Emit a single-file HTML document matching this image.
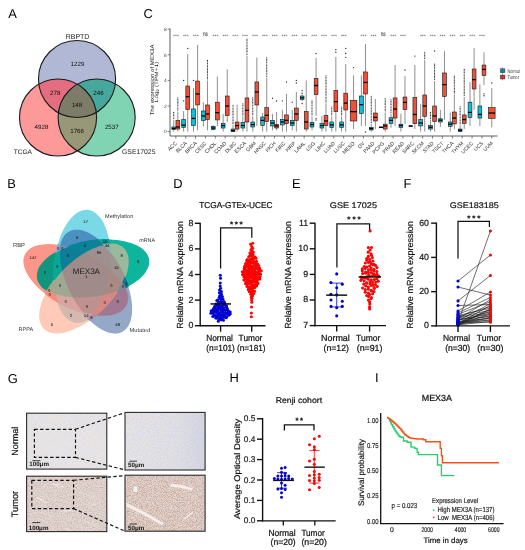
<!DOCTYPE html>
<html><head><meta charset="utf-8"><style>
html,body{margin:0;padding:0;background:#fff;width:525px;height:550px;overflow:hidden;}
svg{display:block;will-change:transform;}
text{font-family:"Liberation Sans", sans-serif;text-rendering:geometricPrecision;}
</style></head><body>
<svg xmlns="http://www.w3.org/2000/svg" width="525" height="550" viewBox="0 0 525 550">
<rect width="525" height="550" fill="#fff"/>
<text x="8.20" y="18.00" font-size="12.9" text-anchor="start" fill="#000" >A</text>
<text x="143.60" y="18.20" font-size="12.9" text-anchor="start" fill="#000" >C</text>
<text x="7.20" y="187.80" font-size="12.9" text-anchor="start" fill="#000" >B</text>
<text x="173.20" y="188.10" font-size="12.9" text-anchor="start" fill="#000" >D</text>
<text x="291.90" y="188.10" font-size="12.9" text-anchor="start" fill="#000" >E</text>
<text x="403.40" y="187.90" font-size="12.9" text-anchor="start" fill="#000" >F</text>
<text x="7.80" y="382.50" font-size="12.9" text-anchor="start" fill="#000" >G</text>
<text x="229.60" y="382.20" font-size="12.9" text-anchor="start" fill="#000" >H</text>
<text x="375.00" y="382.20" font-size="12.9" text-anchor="start" fill="#000" >I</text>
<defs>
<clipPath id="cpB"><circle cx="77.05" cy="79.0" r="38.55"/></clipPath>
<clipPath id="cpR"><circle cx="58.05" cy="117.5" r="38.55"/></clipPath>
</defs>
<circle cx="77.05" cy="79.0" r="38.55" fill="#B0B8D6"/>
<circle cx="58.05" cy="117.5" r="38.55" fill="#FE999A"/>
<circle cx="96.65" cy="117.5" r="38.55" fill="#80D4B4"/>
<circle cx="58.05" cy="117.5" r="38.55" fill="#E46E80" clip-path="url(#cpB)"/>
<circle cx="96.65" cy="117.5" r="38.55" fill="#46A89C" clip-path="url(#cpB)"/>
<circle cx="96.65" cy="117.5" r="38.55" fill="#989878" clip-path="url(#cpR)"/>
<g clip-path="url(#cpB)"><circle cx="96.65" cy="117.5" r="38.55" fill="#7C7C68" clip-path="url(#cpR)"/></g>
<circle cx="77.05" cy="79.0" r="38.55" fill="none" stroke="#1a1a1a" stroke-width="1.1"/>
<circle cx="58.05" cy="117.5" r="38.55" fill="none" stroke="#1a1a1a" stroke-width="1.1"/>
<circle cx="96.65" cy="117.5" r="38.55" fill="none" stroke="#1a1a1a" stroke-width="1.1"/>
<text x="77.50" y="66.03" font-size="6.2" text-anchor="middle" fill="#111" >1229</text>
<text x="55.20" y="94.63" font-size="6.2" text-anchor="middle" fill="#111" >278</text>
<text x="98.50" y="94.63" font-size="6.2" text-anchor="middle" fill="#111" >246</text>
<text x="77.10" y="107.03" font-size="6.2" text-anchor="middle" fill="#111" >148</text>
<text x="41.50" y="128.63" font-size="6.2" text-anchor="middle" fill="#111" >4928</text>
<text x="77.10" y="132.73" font-size="6.2" text-anchor="middle" fill="#111" >1766</text>
<text x="111.80" y="128.53" font-size="6.2" text-anchor="middle" fill="#111" >2537</text>
<text x="65.70" y="39.10" font-size="7" text-anchor="start" fill="#222" >RBPTD</text>
<text x="13.70" y="153.80" font-size="6.6" text-anchor="start" fill="#222" >TCGA</text>
<text x="122.00" y="153.80" font-size="6.85" text-anchor="start" fill="#222" >GSE17025</text>
<defs><clipPath id="cpU"><ellipse cx="93.29" cy="268.72" rx="56.59" ry="28.16" transform="rotate(-9.6 93.29 268.72)"/><ellipse cx="95.9" cy="281.85" rx="56.59" ry="28.16" transform="rotate(62.2 95.9 281.85)"/><ellipse cx="83.73" cy="288.68" rx="56.59" ry="28.16" transform="rotate(134.7 83.73 288.68)"/><ellipse cx="75.51" cy="279.68" rx="56.59" ry="28.16" transform="rotate(206.6 75.51 279.68)"/><ellipse cx="82.1" cy="266.13" rx="56.59" ry="28.16" transform="rotate(275.9 82.1 266.13)"/></clipPath></defs>
<g clip-path="url(#cpU)">
<path d="M72.24 298.20 77.20 298.46 81.00 298.49 84.85 298.37 88.75 298.11 92.67 297.71 96.59 297.17 100.50 296.49 104.37 295.68 105.60 292.25 106.73 288.68 107.62 285.47 108.52 281.71 109.12 278.84 109.72 275.45 110.21 272.02 110.58 268.90 107.53 266.34 104.55 264.04 101.44 261.82 98.19 259.68 94.84 257.64 91.40 255.70 87.88 253.88 84.17 252.12 81.39 253.85 78.28 255.94 75.19 258.19 72.14 260.59 69.52 262.81 66.59 265.45 63.74 268.20 61.25 270.78 62.49 275.40 64.10 280.37 65.81 284.91 67.96 289.87 69.91 293.87Z" fill="#9F8B89"/>
<path d="M45.16 293.19 43.38 296.88 42.09 299.96 41.00 302.98 40.12 305.93 39.45 308.80 39.00 311.57 38.76 314.24 38.75 316.78 38.95 319.19 39.37 321.46 40.02 323.57 40.89 325.52 41.96 327.28 43.25 328.86 44.75 330.24 46.43 331.40 48.30 332.36 50.33 333.09 52.53 333.60 54.88 333.89 57.36 333.96 59.96 333.81 62.68 333.43 65.50 332.84 68.40 332.04 71.38 331.02 74.41 329.80 77.88 328.19 80.99 326.56 84.12 324.74 87.24 322.75 90.44 320.52 88.12 318.22 86.95 319.03 85.74 319.77 83.56 320.84 81.37 321.57 80.16 321.83 78.95 321.99 78.00 322.04 76.80 322.01 75.62 321.88 74.45 321.64 73.29 321.30 72.38 320.96 70.36 319.94 68.41 318.59 66.53 316.92 64.75 314.93 63.24 312.91 61.66 310.36 60.36 307.86 59.02 304.80 57.87 301.66 54.54 299.69 51.28 297.61 48.15 295.43Z" fill="#FFCBB8"/>
<path d="M109.62 239.88 108.62 235.28 107.73 232.03 106.71 228.96 105.58 226.06 104.33 223.35 102.97 220.85 101.51 218.57 99.95 216.52 98.30 214.70 96.57 213.14 94.76 211.83 92.89 210.79 90.95 210.02 88.97 209.53 86.95 209.32 84.91 209.40 82.86 209.75 80.81 210.39 78.77 211.30 76.75 212.48 74.77 213.92 72.82 215.61 70.93 217.54 68.86 220.00 67.09 222.42 65.40 225.05 63.79 227.88 62.08 231.28 60.67 234.48 59.36 237.84 58.16 241.33 57.06 245.01 60.92 245.62 61.34 243.94 61.78 242.46 62.29 241.07 62.86 239.75 63.49 238.52 64.19 237.37 64.94 236.30 65.91 235.14 66.79 234.27 67.71 233.48 68.69 232.79 69.93 232.08 71.24 231.50 72.38 231.13 73.57 230.84 74.80 230.65 76.07 230.56 77.38 230.56 78.73 230.66 80.11 230.85 81.53 231.14 82.97 231.53 84.44 232.01 85.93 232.59 88.98 234.03 92.08 235.83 94.90 237.76 98.04 240.21 103.69 239.89 106.54 239.84Z" fill="#7AD9E7"/>
<path d="M128.03 287.16 131.57 285.18 134.37 283.41 136.96 281.58 139.34 279.68 141.50 277.73 143.43 275.73 145.12 273.70 146.39 271.89 147.60 269.81 148.54 267.72 149.22 265.63 149.58 263.81 149.73 261.74 149.61 259.71 149.27 257.97 148.61 256.03 147.82 254.39 146.66 252.58 145.24 250.86 143.56 249.23 141.65 247.70 139.50 246.28 137.13 244.97 134.54 243.77 132.12 242.83 129.18 241.87 126.06 241.04 122.79 240.34 119.37 239.79 115.83 239.37 112.18 239.09 108.52 238.96 108.98 241.45 109.41 244.31 112.22 244.34 113.66 244.48 115.04 244.69 116.36 244.99 117.62 245.37 118.81 245.83 119.93 246.37 120.98 246.98 121.96 247.68 122.87 248.45 123.71 249.29 124.48 250.21 125.17 251.20 125.78 252.26 126.31 253.39 126.77 254.59 127.15 255.85 127.62 258.29 127.77 259.72 127.83 261.22 127.74 264.04 127.32 267.36 126.65 270.49 125.72 273.74 124.42 277.36 126.37 282.28Z" fill="#0CB59C"/>
<path d="M89.04 320.42 92.22 323.36 94.77 325.46 97.32 327.35 99.87 329.02 102.40 330.47 104.90 331.67 107.36 332.64 109.77 333.36 112.12 333.83 114.39 334.04 116.57 333.99 118.66 333.69 120.64 333.13 122.50 332.31 124.02 331.38 125.62 330.10 126.90 328.78 128.21 327.05 129.36 325.11 130.35 322.96 131.16 320.62 131.79 318.09 132.25 315.38 132.54 312.52 132.64 309.51 132.57 306.36 132.32 303.10 131.89 299.74 131.29 296.29 130.51 292.77 129.57 289.20 128.56 285.86 124.62 287.85 125.34 289.50 125.89 290.97 126.35 292.42 126.77 294.12 127.01 295.50 127.18 297.12 127.21 298.43 127.11 299.96 126.93 301.18 126.59 302.60 126.19 303.73 125.60 305.03 124.87 306.26 124.16 307.23 123.36 308.15 122.47 309.02 121.29 310.00 120.20 310.75 119.03 311.44 117.78 312.08 116.16 312.76 114.73 313.26 113.23 313.70 111.65 314.07 108.28 314.62 104.66 314.91 100.81 314.93 96.46 314.64 92.87 317.57Z" fill="#95A8C8"/>
<path d="M58.21 244.26 53.92 243.75 50.64 243.55 47.48 243.52 44.45 243.66 41.57 243.98 38.86 244.48 36.32 245.15 34.25 245.87 32.07 246.86 30.10 248.01 28.35 249.32 27.00 250.59 25.69 252.18 24.62 253.91 23.90 255.54 23.31 257.50 23.01 259.31 22.91 261.46 23.08 263.70 23.50 266.01 24.08 268.08 24.97 270.50 26.11 272.96 27.49 275.45 28.88 277.64 30.69 280.15 32.72 282.66 34.95 285.16 37.37 287.62 39.99 290.05 42.77 292.43 45.47 294.57 47.67 290.46 46.22 289.54 44.98 288.65 43.83 287.72 42.58 286.57 41.64 285.57 40.80 284.54 40.07 283.48 39.31 282.18 38.80 281.07 38.38 279.94 38.07 278.78 37.84 277.38 37.75 275.95 37.78 274.74 37.93 273.52 38.17 272.28 38.60 270.79 39.08 269.55 39.65 268.29 40.33 267.04 41.11 265.79 41.99 264.54 42.97 263.30 44.04 262.06 46.47 259.64 49.26 257.27 52.38 255.00 56.16 252.63 57.10 248.40Z" fill="#FD968A"/>
<path d="M56.40 251.45 51.55 254.48 48.40 256.80 46.68 258.24 45.33 259.46 42.92 261.96 41.66 263.49 40.71 264.77 39.86 266.07 39.12 267.37 38.48 268.67 37.94 269.98 37.51 271.29 37.18 272.59 36.93 274.15 36.85 275.44 36.87 276.72 37.01 277.98 37.25 279.23 37.61 280.45 38.07 281.65 38.64 282.82 39.31 283.97 40.09 285.08 40.96 286.16 42.15 287.41 43.24 288.41 44.43 289.37 45.71 290.28 47.22 291.25 48.68 288.74 50.38 286.02 52.21 283.31 54.11 280.69 53.96 276.93 53.95 273.55 54.06 269.65 54.27 266.22 54.59 262.79 55.08 258.89 55.70 255.03Z" fill="#0E967E"/>
<path d="M95.50 315.46 101.18 315.84 103.54 315.84 105.45 315.77 107.67 315.60 109.45 315.38 112.81 314.73 114.70 314.21 116.20 313.71 117.61 313.14 118.95 312.50 120.45 311.66 121.61 310.88 122.67 310.04 123.65 309.15 124.70 307.99 125.48 306.97 126.15 305.89 126.73 304.76 127.21 303.59 127.59 302.36 127.86 301.10 128.06 299.52 128.11 298.17 128.06 296.79 127.90 295.38 127.59 293.64 127.22 292.17 126.74 290.68 126.18 289.17 125.43 287.46 121.37 289.30 117.37 290.89 115.25 294.05 112.72 297.51 110.01 300.91 107.46 303.88 104.46 307.12 101.68 309.90 98.81 312.58Z" fill="#A07891"/>
<path d="M99.32 240.11 96.39 237.75 94.80 236.57 91.61 234.48 88.46 232.75 86.90 232.03 85.36 231.39 83.83 230.86 82.33 230.42 80.85 230.08 79.40 229.83 77.97 229.69 76.58 229.65 75.23 229.71 73.91 229.87 72.63 230.13 71.40 230.49 70.21 230.95 69.07 231.51 67.99 232.17 66.96 232.93 65.99 233.78 65.07 234.72 64.22 235.76 63.43 236.88 62.71 238.08 62.05 239.37 61.45 240.74 60.93 242.18 60.47 243.70 60.04 245.46 63.68 246.18 67.64 247.15 71.28 245.81 74.90 244.63 79.09 243.45 82.89 242.53 87.22 241.65 91.10 241.01 94.99 240.51Z" fill="#4A90C0"/>
<path d="M71.70 297.26 74.52 302.06 76.92 305.76 79.43 309.31 82.13 312.81 84.91 313.54 87.60 314.15 90.25 314.68 92.91 315.11 94.66 313.11 96.23 311.08 97.75 308.88 99.41 306.17 100.80 303.64 102.30 300.59 103.53 297.78 104.75 294.67 100.81 295.51 96.45 296.28 92.56 296.82 88.19 297.25 84.33 297.49 80.04 297.60 75.83 297.52Z" fill="#BE918E"/>
<path d="M124.92 278.54 126.70 273.64 127.70 269.99 128.37 266.47 128.68 263.45 128.73 261.84 128.70 260.27 128.58 258.76 128.38 257.30 128.09 255.90 127.71 254.56 127.24 253.28 126.81 252.31 126.20 251.16 125.50 250.08 124.71 249.07 124.03 248.32 123.30 247.62 122.31 246.81 121.25 246.09 120.12 245.45 119.16 245.00 117.91 244.52 116.59 244.12 115.21 243.81 113.77 243.58 112.28 243.44 109.28 243.42 109.85 248.23 110.16 252.97 112.21 255.69 114.40 258.85 116.51 262.11 118.27 265.05 120.18 268.49 121.75 271.55 123.43 275.10Z" fill="#9BB99B"/>
<path d="M110.46 270.00 110.93 264.63 111.11 260.69 111.16 256.77 111.05 252.64 109.16 250.27 107.36 248.15 105.53 246.12 103.63 244.14 101.24 244.70 98.69 245.44 96.46 246.20 93.81 247.24 91.13 248.42 88.42 249.76 85.69 251.24 83.23 252.69 87.04 254.47 90.54 256.26 93.97 258.17 97.71 260.44 100.93 262.56 104.39 265.05 107.33 267.33Z" fill="#9C918F"/>
<path d="M85.17 252.58 80.22 250.43 76.11 248.86 72.00 247.47 67.59 246.20 63.18 248.04 59.37 249.86 59.20 252.30 59.16 254.97 59.23 257.34 59.44 260.19 59.73 262.69 60.19 265.68 60.78 268.72 61.50 271.82 64.38 268.84 67.21 266.11 70.11 263.48 73.09 260.99 76.11 258.62 79.18 256.41 82.26 254.35Z" fill="#0C7E96"/>
<path d="M56.70 301.00 58.33 305.49 59.71 308.58 61.23 311.41 62.88 313.96 64.65 316.22 66.54 318.17 68.52 319.81 69.67 320.57 70.60 321.11 71.79 321.69 72.76 322.07 73.99 322.45 74.98 322.68 76.24 322.87 77.25 322.94 78.27 322.93 79.55 322.83 80.57 322.67 81.85 322.37 82.88 322.05 84.16 321.56 86.44 320.40 88.75 318.87 85.72 315.64 82.65 312.02 79.29 311.03 76.12 309.98 72.50 308.64 69.34 307.35 66.20 305.95 63.10 304.46 60.05 302.87Z" fill="#D4B9B1"/>
<path d="M55.08 294.83 59.72 296.21 64.21 297.17 68.52 297.83 73.32 298.29 71.39 294.77 69.61 291.26 67.97 287.71 66.47 284.12 65.10 280.53 63.89 276.93 62.84 273.37 61.99 270.00 59.66 272.52 57.39 275.12 55.22 277.77 53.19 280.41 53.42 283.64 53.70 286.43 54.12 289.62 54.57 292.29Z" fill="#A0A891"/>
<path d="M103.31 295.92 108.19 294.74 111.47 293.81 114.69 292.79 117.96 291.63 120.71 287.12 122.93 282.93 121.70 281.09 120.33 279.21 118.83 277.32 117.21 275.45 115.48 273.58 113.65 271.74 109.75 268.17 109.32 271.91 108.83 275.31 108.23 278.67 107.43 282.46 106.63 285.70 105.60 289.32 104.45 292.83Z" fill="#A88A82"/>
<path d="M104.39 244.91 101.16 241.76 98.33 239.29 94.40 239.67 89.99 240.27 85.59 241.04 81.73 241.87 77.44 242.96 73.72 244.06 70.09 245.27 66.16 246.75 70.83 248.05 75.35 249.54 79.88 251.26 84.23 253.14 86.90 251.59 89.60 250.17 91.89 249.06 94.53 247.91 97.13 246.91 99.68 246.07 102.17 245.39Z" fill="#0A8298"/>
<path d="M54.86 293.80 56.01 298.62 57.13 302.27 60.50 304.13 63.59 305.70 67.18 307.38 70.35 308.74 73.54 310.00 76.74 311.14 79.93 312.17 83.62 313.22 80.72 309.54 77.94 305.65 75.29 301.59 72.79 297.34 67.76 296.82 63.14 296.05 58.79 295.03Z" fill="#D9A5A0"/>
<path d="M122.46 283.87 124.25 280.09 125.39 277.35 123.84 273.83 122.12 270.27 120.27 266.76 118.55 263.75 116.49 260.39 114.61 257.54 112.37 254.39 110.09 251.40 110.24 255.81 110.23 260.17 110.03 264.57 109.63 269.27 113.33 272.68 115.13 274.51 116.82 276.36 118.39 278.21 119.85 280.06 121.18 281.92Z" fill="#9E9490"/>
<path d="M91.84 314.95 96.75 315.58 99.05 313.58 101.59 311.23 104.07 308.80 106.47 306.30 108.79 303.73 111.01 301.11 113.14 298.44 115.15 295.74 116.79 293.40 118.78 290.37 114.85 291.78 111.22 292.95 107.49 293.99 103.70 294.91 102.53 297.83 101.12 300.98 99.81 303.59 98.23 306.41 96.79 308.71 95.07 311.14 93.52 313.08Z" fill="#D88882"/>
<path d="M60.31 249.38 55.35 252.06 55.18 252.94 54.56 256.32 53.99 260.24 53.54 264.18 53.27 267.63 53.10 271.08 53.04 274.52 53.09 277.92 53.27 281.81 55.33 279.09 57.45 276.45 59.67 273.85 62.24 271.04 61.57 268.10 61.00 265.10 60.62 262.57 60.30 259.69 60.13 257.29 60.06 254.58 60.12 251.97Z" fill="#08A898"/>
<path d="M46.45 290.78 49.45 292.47 51.70 293.52 53.75 294.35 56.07 295.16 55.30 291.25 54.76 287.69 54.31 283.56 54.03 279.29 51.75 282.40 49.88 285.14 48.14 287.88Z" fill="#A3A48C"/>
<path d="M46.90 289.99 44.74 294.01 48.01 296.44 51.19 298.62 54.49 300.72 58.30 302.94 56.99 298.78 55.85 294.14 53.39 293.24 51.10 292.27 48.97 291.20Z" fill="#F58C7D"/>
<path d="M110.31 244.29 109.44 238.98 106.54 238.94 103.18 239.01 100.27 239.15 97.05 239.39 100.24 242.13 103.33 245.12 105.27 244.76 106.93 244.52 108.55 244.37Z" fill="#0A9C9C"/>
<path d="M124.99 288.67 128.84 286.73 127.05 281.51 124.89 276.16 123.43 279.73 121.89 282.99 123.63 285.90Z" fill="#0A7890"/>
<path d="M111.12 254.21 110.70 247.68 110.19 243.40 108.49 243.47 106.49 243.67 104.78 243.93 102.58 244.36 104.87 246.73 106.98 249.09 109.05 251.57Z" fill="#8FB0A8"/>
<path d="M81.17 311.61 85.05 316.24 88.01 319.40 89.43 318.34 90.89 317.10 92.33 315.72 93.64 314.32 90.41 313.79 87.34 313.18 84.24 312.44Z" fill="#C0A8A8"/>
<path d="M116.55 292.15 121.73 290.13 125.81 288.28 124.25 285.16 122.36 282.04 120.99 284.73 119.70 287.06 118.31 289.40Z" fill="#7A8A98"/>
<path d="M61.12 244.74 57.31 244.13 56.11 248.66 55.11 253.24 57.66 251.78 60.22 250.44 60.59 247.43Z" fill="#9AA4C4"/>
<path d="M87.38 318.75 89.70 321.06 93.80 317.98 97.70 314.76 95.10 314.50 92.57 314.15 91.23 315.55 90.05 316.64 88.87 317.64Z" fill="#B08AA8"/>
<path d="M59.94 245.94 59.55 248.32 59.28 250.91 63.96 248.68 69.07 246.59 64.32 245.40 60.23 244.59Z" fill="#6A90B8"/>
</g>
<text x="85.70" y="222.81" font-size="4.2" text-anchor="middle" fill="#1a1a1a" font-weight="bold" fill-opacity="0.8">17</text>
<text x="77.10" y="239.41" font-size="4.2" text-anchor="middle" fill="#1a1a1a" font-weight="bold" fill-opacity="0.8">6</text>
<text x="105.10" y="242.81" font-size="4.2" text-anchor="middle" fill="#1a1a1a" font-weight="bold" fill-opacity="0.8">16</text>
<text x="107.00" y="247.41" font-size="4.2" text-anchor="middle" fill="#1a1a1a" font-weight="bold" fill-opacity="0.8">44</text>
<text x="84.90" y="247.41" font-size="4.2" text-anchor="middle" fill="#1a1a1a" font-weight="bold" fill-opacity="0.8">6</text>
<text x="58.20" y="249.51" font-size="4.2" text-anchor="middle" fill="#1a1a1a" font-weight="bold" fill-opacity="0.8">0</text>
<text x="62.50" y="249.51" font-size="4.2" text-anchor="middle" fill="#1a1a1a" font-weight="bold" fill-opacity="0.8">0</text>
<text x="33.10" y="259.41" font-size="4.2" text-anchor="middle" fill="#1a1a1a" font-weight="bold" fill-opacity="0.8">147</text>
<text x="99.00" y="254.31" font-size="4.2" text-anchor="middle" fill="#1a1a1a" font-weight="bold" fill-opacity="0.8">95</text>
<text x="121.70" y="257.01" font-size="4.2" text-anchor="middle" fill="#1a1a1a" font-weight="bold" fill-opacity="0.8">9</text>
<text x="67.80" y="257.01" font-size="4.2" text-anchor="middle" fill="#1a1a1a" font-weight="bold" fill-opacity="0.8">0</text>
<text x="138.20" y="263.41" font-size="4.2" text-anchor="middle" fill="#1a1a1a" font-weight="bold" fill-opacity="0.8">8</text>
<text x="57.10" y="268.21" font-size="4.2" text-anchor="middle" fill="#1a1a1a" font-weight="bold" fill-opacity="0.8">0</text>
<text x="116.30" y="268.71" font-size="4.2" text-anchor="middle" fill="#1a1a1a" font-weight="bold" fill-opacity="0.8">15</text>
<text x="44.90" y="274.31" font-size="4.2" text-anchor="middle" fill="#1a1a1a" font-weight="bold" fill-opacity="0.8">0</text>
<text x="86.50" y="278.01" font-size="4.2" text-anchor="middle" fill="#1a1a1a" font-weight="bold" fill-opacity="0.8">1</text>
<text x="59.90" y="287.11" font-size="4.2" text-anchor="middle" fill="#1a1a1a" font-weight="bold" fill-opacity="0.8">0</text>
<text x="111.50" y="286.81" font-size="4.2" text-anchor="middle" fill="#1a1a1a" font-weight="bold" fill-opacity="0.8">0</text>
<text x="126.50" y="284.71" font-size="4.2" text-anchor="middle" fill="#1a1a1a" font-weight="bold" fill-opacity="0.8">5</text>
<text x="123.00" y="288.21" font-size="4.2" text-anchor="middle" fill="#1a1a1a" font-weight="bold" fill-opacity="0.8">0</text>
<text x="49.20" y="292.01" font-size="4.2" text-anchor="middle" fill="#1a1a1a" font-weight="bold" fill-opacity="0.8">0</text>
<text x="49.70" y="296.21" font-size="4.2" text-anchor="middle" fill="#1a1a1a" font-weight="bold" fill-opacity="0.8">0</text>
<text x="65.70" y="302.81" font-size="4.2" text-anchor="middle" fill="#1a1a1a" font-weight="bold" fill-opacity="0.8">0</text>
<text x="87.00" y="307.61" font-size="4.2" text-anchor="middle" fill="#1a1a1a" font-weight="bold" fill-opacity="0.8">0</text>
<text x="104.60" y="304.21" font-size="4.2" text-anchor="middle" fill="#1a1a1a" font-weight="bold" fill-opacity="0.8">0</text>
<text x="117.70" y="302.81" font-size="4.2" text-anchor="middle" fill="#1a1a1a" font-weight="bold" fill-opacity="0.8">0</text>
<text x="71.00" y="317.01" font-size="4.2" text-anchor="middle" fill="#1a1a1a" font-weight="bold" fill-opacity="0.8">2</text>
<text x="86.20" y="316.71" font-size="4.2" text-anchor="middle" fill="#1a1a1a" font-weight="bold" fill-opacity="0.8">14</text>
<text x="91.50" y="318.81" font-size="4.2" text-anchor="middle" fill="#1a1a1a" font-weight="bold" fill-opacity="0.8">9</text>
<text x="51.80" y="326.01" font-size="4.2" text-anchor="middle" fill="#1a1a1a" font-weight="bold" fill-opacity="0.8">6</text>
<text x="117.70" y="326.31" font-size="4.2" text-anchor="middle" fill="#1a1a1a" font-weight="bold" fill-opacity="0.8">49</text>
<text x="86.40" y="274.08" font-size="8.0" text-anchor="middle" fill="#222" >MEX3A</text>
<text x="105.10" y="218.28" font-size="5.5" text-anchor="start" fill="#333" >Methylation</text>
<text x="139.20" y="241.54" font-size="5.4" text-anchor="start" fill="#333" >mRNA</text>
<text x="13.00" y="246.59" font-size="5.8" text-anchor="start" fill="#333" >RBP</text>
<text x="18.50" y="330.68" font-size="5.5" text-anchor="start" fill="#333" >RPPA</text>
<text x="129.60" y="331.65" font-size="5.7" text-anchor="start" fill="#333" >Mutated</text>
<line x1="173.75" y1="131.60" x2="173.75" y2="120.08" stroke="#6a6a6a" stroke-width="0.75"/>
<circle cx="173.75" cy="118.54" r="0.6" fill="#333"/>
<circle cx="173.75" cy="117.01" r="0.6" fill="#333"/>
<circle cx="173.75" cy="115.47" r="0.6" fill="#333"/>
<circle cx="173.75" cy="113.94" r="0.6" fill="#333"/>
<circle cx="173.75" cy="112.40" r="0.6" fill="#333"/>
<rect x="171.85" y="126.99" width="3.80" height="2.56" fill="#14BCD8" stroke="#151515" stroke-width="0.6"/>
<line x1="171.85" y1="128.40" x2="175.65" y2="128.40" stroke="#000" stroke-width="1.3"/>
<line x1="177.85" y1="131.60" x2="177.85" y2="111.63" stroke="#6a6a6a" stroke-width="0.75"/>
<circle cx="177.85" cy="110.10" r="0.6" fill="#333"/>
<circle cx="177.85" cy="108.56" r="0.6" fill="#333"/>
<circle cx="177.85" cy="107.02" r="0.6" fill="#333"/>
<circle cx="177.85" cy="105.49" r="0.6" fill="#333"/>
<circle cx="177.85" cy="103.95" r="0.6" fill="#333"/>
<circle cx="177.85" cy="102.42" r="0.6" fill="#333"/>
<circle cx="177.85" cy="100.88" r="0.6" fill="#333"/>
<circle cx="177.85" cy="99.34" r="0.6" fill="#333"/>
<circle cx="177.85" cy="97.81" r="0.6" fill="#333"/>
<rect x="175.95" y="120.46" width="3.80" height="8.58" fill="#F0503A" stroke="#151515" stroke-width="0.6"/>
<line x1="175.95" y1="126.99" x2="179.75" y2="126.99" stroke="#000" stroke-width="1.3"/>
<text x="176.00" y="37.60" font-size="5.2" text-anchor="middle" fill="#4a4a4a" textLength="6.0" lengthAdjust="spacingAndGlyphs" >***</text>
<line x1="175.80" y1="136" x2="175.80" y2="138.6" stroke="#333" stroke-width="0.6"/>
<text x="177.30" y="143.70" font-size="5.1" text-anchor="end" fill="#2a2a2a" transform="rotate(-45 177.30 143.7)">ACC</text>
<line x1="183.62" y1="131.60" x2="183.62" y2="111.12" stroke="#6a6a6a" stroke-width="0.75"/>
<circle cx="183.62" cy="100.88" r="0.7" fill="#333"/>
<circle cx="183.62" cy="80.40" r="0.7" fill="#333"/>
<rect x="181.72" y="119.57" width="3.80" height="7.81" fill="#14BCD8" stroke="#151515" stroke-width="0.6"/>
<line x1="181.72" y1="125.20" x2="185.53" y2="125.20" stroke="#000" stroke-width="1.3"/>
<line x1="187.73" y1="131.60" x2="187.73" y2="54.03" stroke="#6a6a6a" stroke-width="0.75"/>
<circle cx="187.73" cy="48.40" r="0.7" fill="#333"/>
<rect x="185.83" y="86.03" width="3.80" height="23.55" fill="#F0503A" stroke="#151515" stroke-width="0.6"/>
<line x1="185.83" y1="96.66" x2="189.63" y2="96.66" stroke="#000" stroke-width="1.3"/>
<text x="185.88" y="37.60" font-size="5.2" text-anchor="middle" fill="#4a4a4a" textLength="6.0" lengthAdjust="spacingAndGlyphs" >***</text>
<line x1="185.68" y1="136" x2="185.68" y2="138.6" stroke="#333" stroke-width="0.6"/>
<text x="187.18" y="143.70" font-size="5.1" text-anchor="end" fill="#2a2a2a" transform="rotate(-45 187.18 143.7)">BLCA</text>
<line x1="193.50" y1="131.60" x2="193.50" y2="88.08" stroke="#6a6a6a" stroke-width="0.75"/>
<circle cx="193.50" cy="80.40" r="0.7" fill="#333"/>
<rect x="191.60" y="108.94" width="3.80" height="16.64" fill="#14BCD8" stroke="#151515" stroke-width="0.6"/>
<line x1="191.60" y1="118.42" x2="195.40" y2="118.42" stroke="#000" stroke-width="1.3"/>
<line x1="197.60" y1="130.32" x2="197.60" y2="44.94" stroke="#6a6a6a" stroke-width="0.75"/>
<rect x="195.70" y="81.04" width="3.80" height="23.94" fill="#F0503A" stroke="#151515" stroke-width="0.6"/>
<line x1="195.70" y1="93.97" x2="199.50" y2="93.97" stroke="#000" stroke-width="1.3"/>
<text x="195.75" y="37.60" font-size="5.2" text-anchor="middle" fill="#4a4a4a" textLength="6.0" lengthAdjust="spacingAndGlyphs" >***</text>
<line x1="195.55" y1="136" x2="195.55" y2="138.6" stroke="#333" stroke-width="0.6"/>
<text x="197.05" y="143.70" font-size="5.1" text-anchor="end" fill="#2a2a2a" transform="rotate(-45 197.05 143.7)">BRCA</text>
<line x1="203.38" y1="126.48" x2="203.38" y2="102.16" stroke="#6a6a6a" stroke-width="0.75"/>
<rect x="201.47" y="110.99" width="3.80" height="9.41" fill="#14BCD8" stroke="#151515" stroke-width="0.6"/>
<line x1="201.47" y1="115.98" x2="205.28" y2="115.98" stroke="#000" stroke-width="1.3"/>
<line x1="207.48" y1="130.32" x2="207.48" y2="80.40" stroke="#6a6a6a" stroke-width="0.75"/>
<circle cx="207.48" cy="78.86" r="0.6" fill="#333"/>
<circle cx="207.48" cy="77.33" r="0.6" fill="#333"/>
<circle cx="207.48" cy="75.79" r="0.6" fill="#333"/>
<circle cx="207.48" cy="74.26" r="0.6" fill="#333"/>
<circle cx="207.48" cy="72.72" r="0.6" fill="#333"/>
<circle cx="207.48" cy="71.18" r="0.6" fill="#333"/>
<circle cx="207.48" cy="69.65" r="0.6" fill="#333"/>
<circle cx="207.48" cy="68.11" r="0.6" fill="#333"/>
<circle cx="207.48" cy="66.58" r="0.6" fill="#333"/>
<circle cx="207.48" cy="65.04" r="0.6" fill="#333"/>
<circle cx="207.48" cy="63.50" r="0.6" fill="#333"/>
<circle cx="207.48" cy="61.97" r="0.6" fill="#333"/>
<circle cx="207.48" cy="60.43" r="0.6" fill="#333"/>
<rect x="205.58" y="104.98" width="3.80" height="14.59" fill="#F0503A" stroke="#151515" stroke-width="0.6"/>
<line x1="205.58" y1="114.00" x2="209.38" y2="114.00" stroke="#000" stroke-width="1.3"/>
<text x="205.43" y="35.90" font-size="6.5" text-anchor="middle" fill="#555" textLength="5.0" lengthAdjust="spacingAndGlyphs" stroke="#555" stroke-width="0.163" >ns</text>
<line x1="205.43" y1="136" x2="205.43" y2="138.6" stroke="#333" stroke-width="0.6"/>
<text x="206.93" y="143.70" font-size="5.1" text-anchor="end" fill="#2a2a2a" transform="rotate(-45 206.93 143.7)">CESC</text>
<line x1="213.25" y1="130.32" x2="213.25" y2="125.20" stroke="#6a6a6a" stroke-width="0.75"/>
<rect x="211.35" y="126.35" width="3.80" height="3.20" fill="#14BCD8" stroke="#151515" stroke-width="0.6"/>
<line x1="211.35" y1="128.02" x2="215.15" y2="128.02" stroke="#000" stroke-width="1.3"/>
<line x1="217.35" y1="125.97" x2="217.35" y2="76.56" stroke="#6a6a6a" stroke-width="0.75"/>
<rect x="215.45" y="102.16" width="3.80" height="17.79" fill="#F0503A" stroke="#151515" stroke-width="0.6"/>
<line x1="215.45" y1="112.66" x2="219.25" y2="112.66" stroke="#000" stroke-width="1.3"/>
<text x="215.50" y="37.60" font-size="5.2" text-anchor="middle" fill="#4a4a4a" textLength="6.0" lengthAdjust="spacingAndGlyphs" >***</text>
<line x1="215.30" y1="136" x2="215.30" y2="138.6" stroke="#333" stroke-width="0.6"/>
<text x="216.80" y="143.70" font-size="5.1" text-anchor="end" fill="#2a2a2a" transform="rotate(-45 216.80 143.7)">CHOL</text>
<line x1="223.12" y1="131.60" x2="223.12" y2="114.06" stroke="#6a6a6a" stroke-width="0.75"/>
<rect x="221.22" y="123.66" width="3.80" height="4.35" fill="#14BCD8" stroke="#151515" stroke-width="0.6"/>
<line x1="221.22" y1="125.58" x2="225.03" y2="125.58" stroke="#000" stroke-width="1.3"/>
<line x1="227.23" y1="122.00" x2="227.23" y2="69.39" stroke="#6a6a6a" stroke-width="0.75"/>
<rect x="225.33" y="96.02" width="3.80" height="19.58" fill="#F0503A" stroke="#151515" stroke-width="0.6"/>
<line x1="225.33" y1="106.00" x2="229.13" y2="106.00" stroke="#000" stroke-width="1.3"/>
<text x="225.38" y="37.60" font-size="5.2" text-anchor="middle" fill="#4a4a4a" textLength="6.0" lengthAdjust="spacingAndGlyphs" >***</text>
<line x1="225.18" y1="136" x2="225.18" y2="138.6" stroke="#333" stroke-width="0.6"/>
<text x="226.68" y="143.70" font-size="5.1" text-anchor="end" fill="#2a2a2a" transform="rotate(-45 226.68 143.7)">COAD</text>
<line x1="233.00" y1="131.98" x2="233.00" y2="125.20" stroke="#6a6a6a" stroke-width="0.75"/>
<circle cx="233.00" cy="123.66" r="0.6" fill="#333"/>
<circle cx="233.00" cy="122.13" r="0.6" fill="#333"/>
<circle cx="233.00" cy="120.59" r="0.6" fill="#333"/>
<circle cx="233.00" cy="119.06" r="0.6" fill="#333"/>
<circle cx="233.00" cy="117.52" r="0.6" fill="#333"/>
<circle cx="233.00" cy="115.98" r="0.6" fill="#333"/>
<circle cx="233.00" cy="114.45" r="0.6" fill="#333"/>
<circle cx="233.00" cy="112.91" r="0.6" fill="#333"/>
<circle cx="233.00" cy="111.38" r="0.6" fill="#333"/>
<circle cx="233.00" cy="109.84" r="0.6" fill="#333"/>
<circle cx="233.00" cy="108.30" r="0.6" fill="#333"/>
<circle cx="233.00" cy="106.77" r="0.6" fill="#333"/>
<circle cx="233.00" cy="105.23" r="0.6" fill="#333"/>
<rect x="231.10" y="129.04" width="3.80" height="2.56" fill="#14BCD8" stroke="#151515" stroke-width="0.6"/>
<line x1="231.10" y1="130.58" x2="234.90" y2="130.58" stroke="#000" stroke-width="1.3"/>
<line x1="237.10" y1="131.60" x2="237.10" y2="104.72" stroke="#6a6a6a" stroke-width="0.75"/>
<rect x="235.20" y="122.00" width="3.80" height="7.04" fill="#F0503A" stroke="#151515" stroke-width="0.6"/>
<line x1="235.20" y1="125.58" x2="239.00" y2="125.58" stroke="#000" stroke-width="1.3"/>
<text x="235.25" y="37.60" font-size="5.2" text-anchor="middle" fill="#4a4a4a" textLength="6.0" lengthAdjust="spacingAndGlyphs" >***</text>
<line x1="235.05" y1="136" x2="235.05" y2="138.6" stroke="#333" stroke-width="0.6"/>
<text x="236.55" y="143.70" font-size="5.1" text-anchor="end" fill="#2a2a2a" transform="rotate(-45 236.55 143.7)">DLBC</text>
<line x1="242.88" y1="131.60" x2="242.88" y2="116.24" stroke="#6a6a6a" stroke-width="0.75"/>
<circle cx="242.88" cy="114.70" r="0.6" fill="#333"/>
<circle cx="242.88" cy="113.17" r="0.6" fill="#333"/>
<circle cx="242.88" cy="111.63" r="0.6" fill="#333"/>
<circle cx="242.88" cy="110.10" r="0.6" fill="#333"/>
<circle cx="242.88" cy="108.56" r="0.6" fill="#333"/>
<circle cx="242.88" cy="107.02" r="0.6" fill="#333"/>
<circle cx="242.88" cy="105.49" r="0.6" fill="#333"/>
<circle cx="242.88" cy="103.95" r="0.6" fill="#333"/>
<rect x="240.97" y="122.38" width="3.80" height="5.63" fill="#14BCD8" stroke="#151515" stroke-width="0.6"/>
<line x1="240.97" y1="125.46" x2="244.78" y2="125.46" stroke="#000" stroke-width="1.3"/>
<line x1="246.98" y1="131.60" x2="246.98" y2="56.08" stroke="#6a6a6a" stroke-width="0.75"/>
<circle cx="246.98" cy="54.54" r="0.6" fill="#333"/>
<circle cx="246.98" cy="53.01" r="0.6" fill="#333"/>
<circle cx="246.98" cy="51.47" r="0.6" fill="#333"/>
<circle cx="246.98" cy="49.94" r="0.6" fill="#333"/>
<circle cx="246.98" cy="48.40" r="0.6" fill="#333"/>
<circle cx="246.98" cy="46.86" r="0.6" fill="#333"/>
<circle cx="246.98" cy="45.33" r="0.6" fill="#333"/>
<circle cx="246.98" cy="43.79" r="0.6" fill="#333"/>
<circle cx="246.98" cy="42.26" r="0.6" fill="#333"/>
<circle cx="246.98" cy="40.72" r="0.6" fill="#333"/>
<circle cx="246.98" cy="39.18" r="0.6" fill="#333"/>
<rect x="245.08" y="97.94" width="3.80" height="24.06" fill="#F0503A" stroke="#151515" stroke-width="0.6"/>
<line x1="245.08" y1="110.35" x2="248.88" y2="110.35" stroke="#000" stroke-width="1.3"/>
<text x="245.12" y="37.60" font-size="5.2" text-anchor="middle" fill="#4a4a4a" textLength="6.0" lengthAdjust="spacingAndGlyphs" >***</text>
<line x1="244.93" y1="136" x2="244.93" y2="138.6" stroke="#333" stroke-width="0.6"/>
<text x="246.43" y="143.70" font-size="5.1" text-anchor="end" fill="#2a2a2a" transform="rotate(-45 246.43 143.7)">ESCA</text>
<line x1="252.75" y1="131.60" x2="252.75" y2="116.24" stroke="#6a6a6a" stroke-width="0.75"/>
<circle cx="252.75" cy="114.70" r="0.6" fill="#333"/>
<circle cx="252.75" cy="113.17" r="0.6" fill="#333"/>
<circle cx="252.75" cy="111.63" r="0.6" fill="#333"/>
<circle cx="252.75" cy="110.10" r="0.6" fill="#333"/>
<circle cx="252.75" cy="108.56" r="0.6" fill="#333"/>
<circle cx="252.75" cy="107.02" r="0.6" fill="#333"/>
<circle cx="252.75" cy="105.49" r="0.6" fill="#333"/>
<circle cx="252.75" cy="103.95" r="0.6" fill="#333"/>
<circle cx="252.75" cy="102.42" r="0.6" fill="#333"/>
<circle cx="252.75" cy="100.88" r="0.6" fill="#333"/>
<circle cx="252.75" cy="99.34" r="0.6" fill="#333"/>
<circle cx="252.75" cy="97.81" r="0.6" fill="#333"/>
<rect x="250.85" y="122.00" width="3.80" height="4.99" fill="#14BCD8" stroke="#151515" stroke-width="0.6"/>
<line x1="250.85" y1="124.56" x2="254.65" y2="124.56" stroke="#000" stroke-width="1.3"/>
<line x1="256.85" y1="125.97" x2="256.85" y2="57.62" stroke="#6a6a6a" stroke-width="0.75"/>
<rect x="254.95" y="81.94" width="3.80" height="23.04" fill="#F0503A" stroke="#151515" stroke-width="0.6"/>
<line x1="254.95" y1="92.05" x2="258.75" y2="92.05" stroke="#000" stroke-width="1.3"/>
<text x="255.00" y="37.60" font-size="5.2" text-anchor="middle" fill="#4a4a4a" textLength="6.0" lengthAdjust="spacingAndGlyphs" >***</text>
<line x1="254.80" y1="136" x2="254.80" y2="138.6" stroke="#333" stroke-width="0.6"/>
<text x="256.30" y="143.70" font-size="5.1" text-anchor="end" fill="#2a2a2a" transform="rotate(-45 256.30 143.7)">GBM</text>
<line x1="262.62" y1="131.60" x2="262.62" y2="113.04" stroke="#6a6a6a" stroke-width="0.75"/>
<rect x="260.73" y="117.01" width="3.80" height="8.58" fill="#14BCD8" stroke="#151515" stroke-width="0.6"/>
<line x1="260.73" y1="120.40" x2="264.52" y2="120.40" stroke="#000" stroke-width="1.3"/>
<line x1="266.73" y1="131.60" x2="266.73" y2="77.84" stroke="#6a6a6a" stroke-width="0.75"/>
<circle cx="266.73" cy="76.30" r="0.6" fill="#333"/>
<circle cx="266.73" cy="74.77" r="0.6" fill="#333"/>
<circle cx="266.73" cy="73.23" r="0.6" fill="#333"/>
<circle cx="266.73" cy="71.70" r="0.6" fill="#333"/>
<circle cx="266.73" cy="70.16" r="0.6" fill="#333"/>
<circle cx="266.73" cy="68.62" r="0.6" fill="#333"/>
<circle cx="266.73" cy="67.09" r="0.6" fill="#333"/>
<circle cx="266.73" cy="65.55" r="0.6" fill="#333"/>
<circle cx="266.73" cy="64.02" r="0.6" fill="#333"/>
<circle cx="266.73" cy="62.48" r="0.6" fill="#333"/>
<circle cx="266.73" cy="60.94" r="0.6" fill="#333"/>
<circle cx="266.73" cy="59.41" r="0.6" fill="#333"/>
<circle cx="266.73" cy="57.87" r="0.6" fill="#333"/>
<rect x="264.83" y="107.66" width="3.80" height="13.95" fill="#F0503A" stroke="#151515" stroke-width="0.6"/>
<line x1="264.83" y1="115.34" x2="268.62" y2="115.34" stroke="#000" stroke-width="1.3"/>
<text x="264.88" y="37.60" font-size="5.2" text-anchor="middle" fill="#4a4a4a" textLength="6.0" lengthAdjust="spacingAndGlyphs" >***</text>
<line x1="264.68" y1="136" x2="264.68" y2="138.6" stroke="#333" stroke-width="0.6"/>
<text x="266.18" y="143.70" font-size="5.1" text-anchor="end" fill="#2a2a2a" transform="rotate(-45 266.18 143.7)">HNSC</text>
<line x1="272.50" y1="130.32" x2="272.50" y2="114.06" stroke="#6a6a6a" stroke-width="0.75"/>
<circle cx="272.50" cy="98.32" r="0.7" fill="#333"/>
<rect x="270.60" y="120.40" width="3.80" height="5.57" fill="#14BCD8" stroke="#151515" stroke-width="0.6"/>
<line x1="270.60" y1="123.02" x2="274.40" y2="123.02" stroke="#000" stroke-width="1.3"/>
<line x1="276.60" y1="130.32" x2="276.60" y2="112.02" stroke="#6a6a6a" stroke-width="0.75"/>
<circle cx="276.60" cy="101.01" r="0.7" fill="#333"/>
<rect x="274.70" y="124.43" width="3.80" height="3.58" fill="#F0503A" stroke="#151515" stroke-width="0.6"/>
<line x1="274.70" y1="125.97" x2="278.50" y2="125.97" stroke="#000" stroke-width="1.3"/>
<text x="274.75" y="37.60" font-size="5.2" text-anchor="middle" fill="#4a4a4a" textLength="6.0" lengthAdjust="spacingAndGlyphs" >***</text>
<line x1="274.55" y1="136" x2="274.55" y2="138.6" stroke="#333" stroke-width="0.6"/>
<text x="276.05" y="143.70" font-size="5.1" text-anchor="end" fill="#2a2a2a" transform="rotate(-45 276.05 143.7)">KICH</text>
<line x1="282.38" y1="131.60" x2="282.38" y2="109.84" stroke="#6a6a6a" stroke-width="0.75"/>
<circle cx="282.38" cy="100.88" r="0.7" fill="#333"/>
<rect x="280.48" y="119.57" width="3.80" height="5.38" fill="#14BCD8" stroke="#151515" stroke-width="0.6"/>
<line x1="280.48" y1="122.00" x2="284.27" y2="122.00" stroke="#000" stroke-width="1.3"/>
<line x1="286.48" y1="131.60" x2="286.48" y2="93.97" stroke="#6a6a6a" stroke-width="0.75"/>
<circle cx="286.48" cy="81.94" r="0.7" fill="#333"/>
<rect x="284.58" y="114.96" width="3.80" height="8.70" fill="#F0503A" stroke="#151515" stroke-width="0.6"/>
<line x1="284.58" y1="120.40" x2="288.38" y2="120.40" stroke="#000" stroke-width="1.3"/>
<text x="284.62" y="37.60" font-size="5.2" text-anchor="middle" fill="#4a4a4a" textLength="6.0" lengthAdjust="spacingAndGlyphs" >***</text>
<line x1="284.43" y1="136" x2="284.43" y2="138.6" stroke="#333" stroke-width="0.6"/>
<text x="285.93" y="143.70" font-size="5.1" text-anchor="end" fill="#2a2a2a" transform="rotate(-45 285.93 143.7)">KIRC</text>
<line x1="292.25" y1="130.32" x2="292.25" y2="109.84" stroke="#6a6a6a" stroke-width="0.75"/>
<circle cx="292.25" cy="102.16" r="0.7" fill="#333"/>
<rect x="290.35" y="120.40" width="3.80" height="5.18" fill="#14BCD8" stroke="#151515" stroke-width="0.6"/>
<line x1="290.35" y1="123.02" x2="294.15" y2="123.02" stroke="#000" stroke-width="1.3"/>
<line x1="296.35" y1="131.60" x2="296.35" y2="91.92" stroke="#6a6a6a" stroke-width="0.75"/>
<circle cx="296.35" cy="82.96" r="0.7" fill="#333"/>
<circle cx="296.35" cy="80.40" r="0.7" fill="#333"/>
<rect x="294.45" y="108.05" width="3.80" height="12.35" fill="#F0503A" stroke="#151515" stroke-width="0.6"/>
<line x1="294.45" y1="114.00" x2="298.25" y2="114.00" stroke="#000" stroke-width="1.3"/>
<text x="294.50" y="37.60" font-size="5.2" text-anchor="middle" fill="#4a4a4a" textLength="6.0" lengthAdjust="spacingAndGlyphs" >***</text>
<line x1="294.30" y1="136" x2="294.30" y2="138.6" stroke="#333" stroke-width="0.6"/>
<text x="295.80" y="143.70" font-size="5.1" text-anchor="end" fill="#2a2a2a" transform="rotate(-45 295.80 143.7)">KIRP</text>
<line x1="302.12" y1="100.88" x2="302.12" y2="94.48" stroke="#6a6a6a" stroke-width="0.75"/>
<circle cx="302.12" cy="93.20" r="0.7" fill="#333"/>
<circle cx="302.12" cy="90.64" r="0.7" fill="#333"/>
<circle cx="302.12" cy="103.44" r="0.7" fill="#333"/>
<rect x="300.23" y="96.02" width="3.80" height="3.58" fill="#14BCD8" stroke="#151515" stroke-width="0.6"/>
<line x1="300.23" y1="97.81" x2="304.02" y2="97.81" stroke="#000" stroke-width="1.3"/>
<line x1="306.23" y1="131.60" x2="306.23" y2="80.40" stroke="#6a6a6a" stroke-width="0.75"/>
<rect x="304.33" y="111.63" width="3.80" height="17.41" fill="#F0503A" stroke="#151515" stroke-width="0.6"/>
<line x1="304.33" y1="122.00" x2="308.12" y2="122.00" stroke="#000" stroke-width="1.3"/>
<text x="304.38" y="37.60" font-size="5.2" text-anchor="middle" fill="#4a4a4a" textLength="6.0" lengthAdjust="spacingAndGlyphs" >***</text>
<line x1="304.18" y1="136" x2="304.18" y2="138.6" stroke="#333" stroke-width="0.6"/>
<text x="305.68" y="143.70" font-size="5.1" text-anchor="end" fill="#2a2a2a" transform="rotate(-45 305.68 143.7)">LAML</text>
<line x1="312.00" y1="130.32" x2="312.00" y2="116.24" stroke="#6a6a6a" stroke-width="0.75"/>
<circle cx="312.00" cy="114.70" r="0.6" fill="#333"/>
<circle cx="312.00" cy="113.17" r="0.6" fill="#333"/>
<circle cx="312.00" cy="111.63" r="0.6" fill="#333"/>
<circle cx="312.00" cy="110.10" r="0.6" fill="#333"/>
<circle cx="312.00" cy="108.56" r="0.6" fill="#333"/>
<circle cx="312.00" cy="107.02" r="0.6" fill="#333"/>
<circle cx="312.00" cy="105.49" r="0.6" fill="#333"/>
<circle cx="312.00" cy="103.95" r="0.6" fill="#333"/>
<circle cx="312.00" cy="102.42" r="0.6" fill="#333"/>
<circle cx="312.00" cy="100.88" r="0.6" fill="#333"/>
<rect x="310.10" y="122.38" width="3.80" height="4.61" fill="#14BCD8" stroke="#151515" stroke-width="0.6"/>
<line x1="310.10" y1="124.56" x2="313.90" y2="124.56" stroke="#000" stroke-width="1.3"/>
<line x1="316.10" y1="115.98" x2="316.10" y2="58.00" stroke="#6a6a6a" stroke-width="0.75"/>
<circle cx="316.10" cy="53.52" r="0.7" fill="#333"/>
<circle cx="316.10" cy="118.80" r="0.7" fill="#333"/>
<circle cx="316.10" cy="120.08" r="0.7" fill="#333"/>
<rect x="314.20" y="78.61" width="3.80" height="16.00" fill="#F0503A" stroke="#151515" stroke-width="0.6"/>
<line x1="314.20" y1="85.52" x2="318.00" y2="85.52" stroke="#000" stroke-width="1.3"/>
<text x="314.25" y="37.60" font-size="5.2" text-anchor="middle" fill="#4a4a4a" textLength="6.0" lengthAdjust="spacingAndGlyphs" >***</text>
<line x1="314.05" y1="136" x2="314.05" y2="138.6" stroke="#333" stroke-width="0.6"/>
<text x="315.55" y="143.70" font-size="5.1" text-anchor="end" fill="#2a2a2a" transform="rotate(-45 315.55 143.7)">LGG</text>
<line x1="321.88" y1="131.60" x2="321.88" y2="115.98" stroke="#6a6a6a" stroke-width="0.75"/>
<rect x="319.98" y="123.66" width="3.80" height="4.35" fill="#14BCD8" stroke="#151515" stroke-width="0.6"/>
<line x1="319.98" y1="125.58" x2="323.77" y2="125.58" stroke="#000" stroke-width="1.3"/>
<line x1="325.98" y1="131.60" x2="325.98" y2="103.44" stroke="#6a6a6a" stroke-width="0.75"/>
<circle cx="325.98" cy="101.90" r="0.6" fill="#333"/>
<circle cx="325.98" cy="100.37" r="0.6" fill="#333"/>
<circle cx="325.98" cy="98.83" r="0.6" fill="#333"/>
<circle cx="325.98" cy="97.30" r="0.6" fill="#333"/>
<circle cx="325.98" cy="95.76" r="0.6" fill="#333"/>
<circle cx="325.98" cy="94.22" r="0.6" fill="#333"/>
<circle cx="325.98" cy="92.69" r="0.6" fill="#333"/>
<circle cx="325.98" cy="91.15" r="0.6" fill="#333"/>
<circle cx="325.98" cy="89.62" r="0.6" fill="#333"/>
<circle cx="325.98" cy="88.08" r="0.6" fill="#333"/>
<circle cx="325.98" cy="86.54" r="0.6" fill="#333"/>
<circle cx="325.98" cy="85.01" r="0.6" fill="#333"/>
<circle cx="325.98" cy="83.47" r="0.6" fill="#333"/>
<circle cx="325.98" cy="81.94" r="0.6" fill="#333"/>
<circle cx="325.98" cy="80.40" r="0.6" fill="#333"/>
<circle cx="325.98" cy="78.86" r="0.6" fill="#333"/>
<circle cx="325.98" cy="77.33" r="0.6" fill="#333"/>
<circle cx="325.98" cy="75.79" r="0.6" fill="#333"/>
<rect x="324.08" y="115.60" width="3.80" height="9.98" fill="#F0503A" stroke="#151515" stroke-width="0.6"/>
<line x1="324.08" y1="120.98" x2="327.88" y2="120.98" stroke="#000" stroke-width="1.3"/>
<text x="324.12" y="37.60" font-size="5.2" text-anchor="middle" fill="#4a4a4a" textLength="6.0" lengthAdjust="spacingAndGlyphs" >***</text>
<line x1="323.93" y1="136" x2="323.93" y2="138.6" stroke="#333" stroke-width="0.6"/>
<text x="325.43" y="143.70" font-size="5.1" text-anchor="end" fill="#2a2a2a" transform="rotate(-45 325.43 143.7)">LIHC</text>
<line x1="331.75" y1="131.60" x2="331.75" y2="116.24" stroke="#6a6a6a" stroke-width="0.75"/>
<circle cx="331.75" cy="114.70" r="0.6" fill="#333"/>
<circle cx="331.75" cy="113.17" r="0.6" fill="#333"/>
<circle cx="331.75" cy="111.63" r="0.6" fill="#333"/>
<circle cx="331.75" cy="110.10" r="0.6" fill="#333"/>
<circle cx="331.75" cy="108.56" r="0.6" fill="#333"/>
<circle cx="331.75" cy="107.02" r="0.6" fill="#333"/>
<rect x="329.85" y="122.00" width="3.80" height="5.63" fill="#14BCD8" stroke="#151515" stroke-width="0.6"/>
<line x1="329.85" y1="124.94" x2="333.65" y2="124.94" stroke="#000" stroke-width="1.3"/>
<line x1="335.85" y1="131.60" x2="335.85" y2="56.98" stroke="#6a6a6a" stroke-width="0.75"/>
<circle cx="335.85" cy="52.24" r="0.7" fill="#333"/>
<circle cx="335.85" cy="49.68" r="0.7" fill="#333"/>
<rect x="333.95" y="90.64" width="3.80" height="20.99" fill="#F0503A" stroke="#151515" stroke-width="0.6"/>
<line x1="333.95" y1="101.65" x2="337.75" y2="101.65" stroke="#000" stroke-width="1.3"/>
<text x="334.00" y="37.60" font-size="5.2" text-anchor="middle" fill="#4a4a4a" textLength="6.0" lengthAdjust="spacingAndGlyphs" >***</text>
<line x1="333.80" y1="136" x2="333.80" y2="138.6" stroke="#333" stroke-width="0.6"/>
<text x="335.30" y="143.70" font-size="5.1" text-anchor="end" fill="#2a2a2a" transform="rotate(-45 335.30 143.7)">LUAD</text>
<line x1="341.62" y1="131.60" x2="341.62" y2="116.24" stroke="#6a6a6a" stroke-width="0.75"/>
<circle cx="341.62" cy="114.70" r="0.6" fill="#333"/>
<circle cx="341.62" cy="113.17" r="0.6" fill="#333"/>
<circle cx="341.62" cy="111.63" r="0.6" fill="#333"/>
<circle cx="341.62" cy="110.10" r="0.6" fill="#333"/>
<circle cx="341.62" cy="108.56" r="0.6" fill="#333"/>
<circle cx="341.62" cy="107.02" r="0.6" fill="#333"/>
<rect x="339.73" y="122.00" width="3.80" height="5.63" fill="#14BCD8" stroke="#151515" stroke-width="0.6"/>
<line x1="339.73" y1="124.94" x2="343.52" y2="124.94" stroke="#000" stroke-width="1.3"/>
<line x1="345.73" y1="131.60" x2="345.73" y2="64.02" stroke="#6a6a6a" stroke-width="0.75"/>
<circle cx="345.73" cy="57.36" r="0.7" fill="#333"/>
<circle cx="345.73" cy="53.52" r="0.7" fill="#333"/>
<circle cx="345.73" cy="48.40" r="0.7" fill="#333"/>
<rect x="343.83" y="93.20" width="3.80" height="16.77" fill="#F0503A" stroke="#151515" stroke-width="0.6"/>
<line x1="343.83" y1="103.06" x2="347.62" y2="103.06" stroke="#000" stroke-width="1.3"/>
<text x="343.88" y="37.60" font-size="5.2" text-anchor="middle" fill="#4a4a4a" textLength="6.0" lengthAdjust="spacingAndGlyphs" >***</text>
<line x1="343.68" y1="136" x2="343.68" y2="138.6" stroke="#333" stroke-width="0.6"/>
<text x="345.18" y="143.70" font-size="5.1" text-anchor="end" fill="#2a2a2a" transform="rotate(-45 345.18 143.7)">LUSC</text>
<line x1="353.55" y1="129.04" x2="353.55" y2="75.41" stroke="#6a6a6a" stroke-width="0.75"/>
<circle cx="353.55" cy="67.60" r="0.7" fill="#333"/>
<rect x="350.25" y="100.37" width="6.60" height="20.61" fill="#F0503A" stroke="#151515" stroke-width="0.6"/>
<line x1="350.25" y1="111.63" x2="356.85" y2="111.63" stroke="#000" stroke-width="1.3"/>
<line x1="353.55" y1="136" x2="353.55" y2="138.6" stroke="#333" stroke-width="0.6"/>
<text x="355.05" y="143.70" font-size="5.1" text-anchor="end" fill="#2a2a2a" transform="rotate(-45 355.05 143.7)">MESO</text>
<line x1="361.38" y1="125.97" x2="361.38" y2="75.41" stroke="#6a6a6a" stroke-width="0.75"/>
<rect x="359.48" y="96.02" width="3.80" height="17.54" fill="#14BCD8" stroke="#151515" stroke-width="0.6"/>
<line x1="359.48" y1="104.72" x2="363.27" y2="104.72" stroke="#000" stroke-width="1.3"/>
<line x1="365.48" y1="125.97" x2="365.48" y2="44.05" stroke="#6a6a6a" stroke-width="0.75"/>
<circle cx="365.48" cy="131.98" r="0.7" fill="#333"/>
<rect x="363.58" y="71.95" width="3.80" height="22.02" fill="#F0503A" stroke="#151515" stroke-width="0.6"/>
<line x1="363.58" y1="82.45" x2="367.38" y2="82.45" stroke="#000" stroke-width="1.3"/>
<text x="363.62" y="37.60" font-size="5.2" text-anchor="middle" fill="#4a4a4a" textLength="6.0" lengthAdjust="spacingAndGlyphs" >***</text>
<line x1="363.43" y1="136" x2="363.43" y2="138.6" stroke="#333" stroke-width="0.6"/>
<text x="364.93" y="143.70" font-size="5.1" text-anchor="end" fill="#2a2a2a" transform="rotate(-45 364.93 143.7)">OV</text>
<line x1="371.25" y1="131.60" x2="371.25" y2="123.92" stroke="#6a6a6a" stroke-width="0.75"/>
<circle cx="371.25" cy="122.38" r="0.6" fill="#333"/>
<circle cx="371.25" cy="120.85" r="0.6" fill="#333"/>
<circle cx="371.25" cy="119.31" r="0.6" fill="#333"/>
<circle cx="371.25" cy="117.78" r="0.6" fill="#333"/>
<circle cx="371.25" cy="116.24" r="0.6" fill="#333"/>
<circle cx="371.25" cy="114.70" r="0.6" fill="#333"/>
<circle cx="371.25" cy="113.17" r="0.6" fill="#333"/>
<circle cx="371.25" cy="111.63" r="0.6" fill="#333"/>
<circle cx="371.25" cy="110.10" r="0.6" fill="#333"/>
<circle cx="371.25" cy="108.56" r="0.6" fill="#333"/>
<circle cx="371.25" cy="107.02" r="0.6" fill="#333"/>
<circle cx="371.25" cy="105.49" r="0.6" fill="#333"/>
<circle cx="371.25" cy="103.95" r="0.6" fill="#333"/>
<circle cx="371.25" cy="102.42" r="0.6" fill="#333"/>
<circle cx="371.25" cy="100.88" r="0.6" fill="#333"/>
<circle cx="371.25" cy="99.34" r="0.6" fill="#333"/>
<circle cx="371.25" cy="97.81" r="0.6" fill="#333"/>
<circle cx="371.25" cy="96.27" r="0.6" fill="#333"/>
<rect x="369.35" y="127.38" width="3.80" height="2.56" fill="#14BCD8" stroke="#151515" stroke-width="0.6"/>
<line x1="369.35" y1="128.66" x2="373.15" y2="128.66" stroke="#000" stroke-width="1.3"/>
<line x1="375.35" y1="129.04" x2="375.35" y2="98.96" stroke="#6a6a6a" stroke-width="0.75"/>
<rect x="373.45" y="113.04" width="3.80" height="7.94" fill="#F0503A" stroke="#151515" stroke-width="0.6"/>
<line x1="373.45" y1="117.39" x2="377.25" y2="117.39" stroke="#000" stroke-width="1.3"/>
<text x="373.50" y="37.60" font-size="5.2" text-anchor="middle" fill="#4a4a4a" textLength="6.0" lengthAdjust="spacingAndGlyphs" >***</text>
<line x1="373.30" y1="136" x2="373.30" y2="138.6" stroke="#333" stroke-width="0.6"/>
<text x="374.80" y="143.70" font-size="5.1" text-anchor="end" fill="#2a2a2a" transform="rotate(-45 374.80 143.7)">PAAD</text>
<line x1="381.12" y1="127.76" x2="381.12" y2="126.99" stroke="#6a6a6a" stroke-width="0.75"/>
<rect x="379.23" y="126.99" width="3.80" height="0.77" fill="#14BCD8" stroke="#151515" stroke-width="0.6"/>
<line x1="379.23" y1="127.38" x2="383.02" y2="127.38" stroke="#000" stroke-width="1.3"/>
<line x1="385.23" y1="131.60" x2="385.23" y2="112.40" stroke="#6a6a6a" stroke-width="0.75"/>
<circle cx="385.23" cy="110.86" r="0.6" fill="#333"/>
<circle cx="385.23" cy="109.33" r="0.6" fill="#333"/>
<circle cx="385.23" cy="107.79" r="0.6" fill="#333"/>
<circle cx="385.23" cy="106.26" r="0.6" fill="#333"/>
<circle cx="385.23" cy="104.72" r="0.6" fill="#333"/>
<circle cx="385.23" cy="103.18" r="0.6" fill="#333"/>
<circle cx="385.23" cy="101.65" r="0.6" fill="#333"/>
<circle cx="385.23" cy="100.11" r="0.6" fill="#333"/>
<circle cx="385.23" cy="98.58" r="0.6" fill="#333"/>
<rect x="383.33" y="124.18" width="3.80" height="4.86" fill="#F0503A" stroke="#151515" stroke-width="0.6"/>
<line x1="383.33" y1="125.97" x2="387.12" y2="125.97" stroke="#000" stroke-width="1.3"/>
<text x="383.18" y="35.90" font-size="6.5" text-anchor="middle" fill="#555" textLength="5.0" lengthAdjust="spacingAndGlyphs" stroke="#555" stroke-width="0.163" >ns</text>
<line x1="383.18" y1="136" x2="383.18" y2="138.6" stroke="#333" stroke-width="0.6"/>
<text x="384.68" y="143.70" font-size="5.1" text-anchor="end" fill="#2a2a2a" transform="rotate(-45 384.68 143.7)">PCPG</text>
<line x1="391.00" y1="127.76" x2="391.00" y2="113.68" stroke="#6a6a6a" stroke-width="0.75"/>
<circle cx="391.00" cy="112.14" r="0.6" fill="#333"/>
<circle cx="391.00" cy="110.61" r="0.6" fill="#333"/>
<circle cx="391.00" cy="109.07" r="0.6" fill="#333"/>
<circle cx="391.00" cy="107.54" r="0.6" fill="#333"/>
<circle cx="391.00" cy="106.00" r="0.6" fill="#333"/>
<circle cx="391.00" cy="104.46" r="0.6" fill="#333"/>
<circle cx="391.00" cy="102.93" r="0.6" fill="#333"/>
<circle cx="391.00" cy="101.39" r="0.6" fill="#333"/>
<circle cx="391.00" cy="99.86" r="0.6" fill="#333"/>
<rect x="389.10" y="117.78" width="3.80" height="5.89" fill="#14BCD8" stroke="#151515" stroke-width="0.6"/>
<line x1="389.10" y1="120.40" x2="392.90" y2="120.40" stroke="#000" stroke-width="1.3"/>
<line x1="395.10" y1="125.97" x2="395.10" y2="65.04" stroke="#6a6a6a" stroke-width="0.75"/>
<rect x="393.20" y="97.94" width="3.80" height="20.10" fill="#F0503A" stroke="#151515" stroke-width="0.6"/>
<line x1="393.20" y1="109.07" x2="397.00" y2="109.07" stroke="#000" stroke-width="1.3"/>
<text x="393.25" y="37.60" font-size="5.2" text-anchor="middle" fill="#4a4a4a" textLength="6.0" lengthAdjust="spacingAndGlyphs" >***</text>
<line x1="393.05" y1="136" x2="393.05" y2="138.6" stroke="#333" stroke-width="0.6"/>
<text x="394.55" y="143.70" font-size="5.1" text-anchor="end" fill="#2a2a2a" transform="rotate(-45 394.55 143.7)">PRAD</text>
<line x1="400.88" y1="131.60" x2="400.88" y2="113.68" stroke="#6a6a6a" stroke-width="0.75"/>
<rect x="398.98" y="124.18" width="3.80" height="3.20" fill="#14BCD8" stroke="#151515" stroke-width="0.6"/>
<line x1="398.98" y1="125.58" x2="402.77" y2="125.58" stroke="#000" stroke-width="1.3"/>
<line x1="404.98" y1="123.92" x2="404.98" y2="76.05" stroke="#6a6a6a" stroke-width="0.75"/>
<circle cx="404.98" cy="70.03" r="0.7" fill="#333"/>
<rect x="403.08" y="97.04" width="3.80" height="12.54" fill="#F0503A" stroke="#151515" stroke-width="0.6"/>
<line x1="403.08" y1="102.42" x2="406.88" y2="102.42" stroke="#000" stroke-width="1.3"/>
<text x="403.12" y="37.60" font-size="5.2" text-anchor="middle" fill="#4a4a4a" textLength="6.0" lengthAdjust="spacingAndGlyphs" >***</text>
<line x1="402.93" y1="136" x2="402.93" y2="138.6" stroke="#333" stroke-width="0.6"/>
<text x="404.43" y="143.70" font-size="5.1" text-anchor="end" fill="#2a2a2a" transform="rotate(-45 404.43 143.7)">READ</text>
<line x1="410.75" y1="125.97" x2="410.75" y2="125.97" stroke="#6a6a6a" stroke-width="0.75"/>
<rect x="408.85" y="125.97" width="3.80" height="0.60" fill="#14BCD8" stroke="#151515" stroke-width="0.6"/>
<line x1="408.85" y1="125.97" x2="412.65" y2="125.97" stroke="#000" stroke-width="1.3"/>
<line x1="414.85" y1="129.04" x2="414.85" y2="65.04" stroke="#6a6a6a" stroke-width="0.75"/>
<circle cx="414.85" cy="56.08" r="0.7" fill="#333"/>
<rect x="412.95" y="97.55" width="3.80" height="26.11" fill="#F0503A" stroke="#151515" stroke-width="0.6"/>
<line x1="412.95" y1="114.45" x2="416.75" y2="114.45" stroke="#000" stroke-width="1.3"/>
<line x1="412.80" y1="136" x2="412.80" y2="138.6" stroke="#333" stroke-width="0.6"/>
<text x="414.30" y="143.70" font-size="5.1" text-anchor="end" fill="#2a2a2a" transform="rotate(-45 414.30 143.7)">SARC</text>
<line x1="420.62" y1="131.60" x2="420.62" y2="103.95" stroke="#6a6a6a" stroke-width="0.75"/>
<rect x="418.73" y="119.57" width="3.80" height="6.40" fill="#14BCD8" stroke="#151515" stroke-width="0.6"/>
<line x1="418.73" y1="123.02" x2="422.52" y2="123.02" stroke="#000" stroke-width="1.3"/>
<line x1="424.73" y1="131.60" x2="424.73" y2="59.92" stroke="#6a6a6a" stroke-width="0.75"/>
<circle cx="424.73" cy="58.38" r="0.6" fill="#333"/>
<circle cx="424.73" cy="56.85" r="0.6" fill="#333"/>
<circle cx="424.73" cy="55.31" r="0.6" fill="#333"/>
<circle cx="424.73" cy="53.78" r="0.6" fill="#333"/>
<circle cx="424.73" cy="52.24" r="0.6" fill="#333"/>
<rect x="422.83" y="94.99" width="3.80" height="21.38" fill="#F0503A" stroke="#151515" stroke-width="0.6"/>
<line x1="422.83" y1="106.00" x2="426.62" y2="106.00" stroke="#000" stroke-width="1.3"/>
<text x="422.88" y="37.60" font-size="5.2" text-anchor="middle" fill="#4a4a4a" textLength="6.0" lengthAdjust="spacingAndGlyphs" >***</text>
<line x1="422.68" y1="136" x2="422.68" y2="138.6" stroke="#333" stroke-width="0.6"/>
<text x="424.18" y="143.70" font-size="5.1" text-anchor="end" fill="#2a2a2a" transform="rotate(-45 424.18 143.7)">SKCM</text>
<line x1="430.50" y1="131.60" x2="430.50" y2="120.08" stroke="#6a6a6a" stroke-width="0.75"/>
<circle cx="430.50" cy="118.54" r="0.6" fill="#333"/>
<circle cx="430.50" cy="117.01" r="0.6" fill="#333"/>
<circle cx="430.50" cy="115.47" r="0.6" fill="#333"/>
<circle cx="430.50" cy="113.94" r="0.6" fill="#333"/>
<circle cx="430.50" cy="112.40" r="0.6" fill="#333"/>
<rect x="428.60" y="125.58" width="3.80" height="3.46" fill="#14BCD8" stroke="#151515" stroke-width="0.6"/>
<line x1="428.60" y1="127.25" x2="432.40" y2="127.25" stroke="#000" stroke-width="1.3"/>
<line x1="434.60" y1="131.60" x2="434.60" y2="81.04" stroke="#6a6a6a" stroke-width="0.75"/>
<circle cx="434.60" cy="50.96" r="0.7" fill="#333"/>
<circle cx="434.60" cy="79.50" r="0.6" fill="#333"/>
<circle cx="434.60" cy="77.97" r="0.6" fill="#333"/>
<circle cx="434.60" cy="76.43" r="0.6" fill="#333"/>
<circle cx="434.60" cy="74.90" r="0.6" fill="#333"/>
<circle cx="434.60" cy="73.36" r="0.6" fill="#333"/>
<circle cx="434.60" cy="71.82" r="0.6" fill="#333"/>
<circle cx="434.60" cy="70.29" r="0.6" fill="#333"/>
<circle cx="434.60" cy="68.75" r="0.6" fill="#333"/>
<circle cx="434.60" cy="67.22" r="0.6" fill="#333"/>
<circle cx="434.60" cy="65.68" r="0.6" fill="#333"/>
<circle cx="434.60" cy="64.14" r="0.6" fill="#333"/>
<rect x="432.70" y="106.00" width="3.80" height="15.62" fill="#F0503A" stroke="#151515" stroke-width="0.6"/>
<line x1="432.70" y1="115.98" x2="436.50" y2="115.98" stroke="#000" stroke-width="1.3"/>
<text x="432.75" y="37.60" font-size="5.2" text-anchor="middle" fill="#4a4a4a" textLength="6.0" lengthAdjust="spacingAndGlyphs" >***</text>
<line x1="432.55" y1="136" x2="432.55" y2="138.6" stroke="#333" stroke-width="0.6"/>
<text x="434.05" y="143.70" font-size="5.1" text-anchor="end" fill="#2a2a2a" transform="rotate(-45 434.05 143.7)">STAD</text>
<line x1="440.38" y1="126.99" x2="440.38" y2="109.84" stroke="#6a6a6a" stroke-width="0.75"/>
<rect x="438.48" y="118.80" width="3.80" height="3.20" fill="#14BCD8" stroke="#151515" stroke-width="0.6"/>
<line x1="438.48" y1="120.21" x2="442.27" y2="120.21" stroke="#000" stroke-width="1.3"/>
<line x1="444.48" y1="119.95" x2="444.48" y2="51.22" stroke="#6a6a6a" stroke-width="0.75"/>
<rect x="442.58" y="72.98" width="3.80" height="23.42" fill="#F0503A" stroke="#151515" stroke-width="0.6"/>
<line x1="442.58" y1="84.62" x2="446.38" y2="84.62" stroke="#000" stroke-width="1.3"/>
<text x="442.62" y="37.60" font-size="5.2" text-anchor="middle" fill="#4a4a4a" textLength="6.0" lengthAdjust="spacingAndGlyphs" >***</text>
<line x1="442.43" y1="136" x2="442.43" y2="138.6" stroke="#333" stroke-width="0.6"/>
<text x="443.93" y="143.70" font-size="5.1" text-anchor="end" fill="#2a2a2a" transform="rotate(-45 443.93 143.7)">TGCT</text>
<line x1="450.25" y1="131.60" x2="450.25" y2="112.40" stroke="#6a6a6a" stroke-width="0.75"/>
<rect x="448.35" y="122.00" width="3.80" height="4.35" fill="#14BCD8" stroke="#151515" stroke-width="0.6"/>
<line x1="448.35" y1="124.18" x2="452.15" y2="124.18" stroke="#000" stroke-width="1.3"/>
<line x1="454.35" y1="129.04" x2="454.35" y2="94.48" stroke="#6a6a6a" stroke-width="0.75"/>
<circle cx="454.35" cy="92.94" r="0.6" fill="#333"/>
<circle cx="454.35" cy="91.41" r="0.6" fill="#333"/>
<circle cx="454.35" cy="89.87" r="0.6" fill="#333"/>
<circle cx="454.35" cy="88.34" r="0.6" fill="#333"/>
<circle cx="454.35" cy="86.80" r="0.6" fill="#333"/>
<circle cx="454.35" cy="85.26" r="0.6" fill="#333"/>
<circle cx="454.35" cy="83.73" r="0.6" fill="#333"/>
<circle cx="454.35" cy="82.19" r="0.6" fill="#333"/>
<circle cx="454.35" cy="80.66" r="0.6" fill="#333"/>
<circle cx="454.35" cy="79.12" r="0.6" fill="#333"/>
<circle cx="454.35" cy="77.58" r="0.6" fill="#333"/>
<circle cx="454.35" cy="76.05" r="0.6" fill="#333"/>
<rect x="452.45" y="112.02" width="3.80" height="11.90" fill="#F0503A" stroke="#151515" stroke-width="0.6"/>
<line x1="452.45" y1="118.03" x2="456.25" y2="118.03" stroke="#000" stroke-width="1.3"/>
<text x="452.50" y="37.60" font-size="5.2" text-anchor="middle" fill="#4a4a4a" textLength="6.0" lengthAdjust="spacingAndGlyphs" >***</text>
<line x1="452.30" y1="136" x2="452.30" y2="138.6" stroke="#333" stroke-width="0.6"/>
<text x="453.80" y="143.70" font-size="5.1" text-anchor="end" fill="#2a2a2a" transform="rotate(-45 453.80 143.7)">THCA</text>
<line x1="460.12" y1="131.98" x2="460.12" y2="125.20" stroke="#6a6a6a" stroke-width="0.75"/>
<circle cx="460.12" cy="123.66" r="0.6" fill="#333"/>
<circle cx="460.12" cy="122.13" r="0.6" fill="#333"/>
<circle cx="460.12" cy="120.59" r="0.6" fill="#333"/>
<circle cx="460.12" cy="119.06" r="0.6" fill="#333"/>
<circle cx="460.12" cy="117.52" r="0.6" fill="#333"/>
<circle cx="460.12" cy="115.98" r="0.6" fill="#333"/>
<circle cx="460.12" cy="114.45" r="0.6" fill="#333"/>
<circle cx="460.12" cy="112.91" r="0.6" fill="#333"/>
<circle cx="460.12" cy="111.38" r="0.6" fill="#333"/>
<circle cx="460.12" cy="109.84" r="0.6" fill="#333"/>
<circle cx="460.12" cy="108.30" r="0.6" fill="#333"/>
<circle cx="460.12" cy="106.77" r="0.6" fill="#333"/>
<rect x="458.23" y="129.04" width="3.80" height="2.56" fill="#14BCD8" stroke="#151515" stroke-width="0.6"/>
<line x1="458.23" y1="130.32" x2="462.02" y2="130.32" stroke="#000" stroke-width="1.3"/>
<line x1="464.23" y1="129.04" x2="464.23" y2="97.04" stroke="#6a6a6a" stroke-width="0.75"/>
<circle cx="464.23" cy="95.50" r="0.6" fill="#333"/>
<circle cx="464.23" cy="93.97" r="0.6" fill="#333"/>
<circle cx="464.23" cy="92.43" r="0.6" fill="#333"/>
<circle cx="464.23" cy="90.90" r="0.6" fill="#333"/>
<circle cx="464.23" cy="89.36" r="0.6" fill="#333"/>
<circle cx="464.23" cy="87.82" r="0.6" fill="#333"/>
<circle cx="464.23" cy="86.29" r="0.6" fill="#333"/>
<circle cx="464.23" cy="84.75" r="0.6" fill="#333"/>
<circle cx="464.23" cy="83.22" r="0.6" fill="#333"/>
<circle cx="464.23" cy="81.68" r="0.6" fill="#333"/>
<circle cx="464.23" cy="80.14" r="0.6" fill="#333"/>
<circle cx="464.23" cy="78.61" r="0.6" fill="#333"/>
<circle cx="464.23" cy="77.07" r="0.6" fill="#333"/>
<circle cx="464.23" cy="75.54" r="0.6" fill="#333"/>
<circle cx="464.23" cy="74.00" r="0.6" fill="#333"/>
<circle cx="464.23" cy="72.46" r="0.6" fill="#333"/>
<circle cx="464.23" cy="70.93" r="0.6" fill="#333"/>
<circle cx="464.23" cy="69.39" r="0.6" fill="#333"/>
<rect x="462.33" y="114.96" width="3.80" height="8.45" fill="#F0503A" stroke="#151515" stroke-width="0.6"/>
<line x1="462.33" y1="119.57" x2="466.12" y2="119.57" stroke="#000" stroke-width="1.3"/>
<text x="462.38" y="37.60" font-size="5.2" text-anchor="middle" fill="#4a4a4a" textLength="6.0" lengthAdjust="spacingAndGlyphs" >***</text>
<line x1="462.18" y1="136" x2="462.18" y2="138.6" stroke="#333" stroke-width="0.6"/>
<text x="463.68" y="143.70" font-size="5.1" text-anchor="end" fill="#2a2a2a" transform="rotate(-45 463.68 143.7)">THYM</text>
<line x1="470.00" y1="125.97" x2="470.00" y2="81.94" stroke="#6a6a6a" stroke-width="0.75"/>
<rect x="468.10" y="102.16" width="3.80" height="15.23" fill="#14BCD8" stroke="#151515" stroke-width="0.6"/>
<line x1="468.10" y1="112.40" x2="471.90" y2="112.40" stroke="#000" stroke-width="1.3"/>
<line x1="474.10" y1="109.97" x2="474.10" y2="48.02" stroke="#6a6a6a" stroke-width="0.75"/>
<rect x="472.20" y="69.01" width="3.80" height="19.97" fill="#F0503A" stroke="#151515" stroke-width="0.6"/>
<line x1="472.20" y1="79.63" x2="476.00" y2="79.63" stroke="#000" stroke-width="1.3"/>
<text x="472.25" y="37.60" font-size="5.2" text-anchor="middle" fill="#4a4a4a" textLength="6.0" lengthAdjust="spacingAndGlyphs" >***</text>
<line x1="472.05" y1="136" x2="472.05" y2="138.6" stroke="#333" stroke-width="0.6"/>
<text x="473.55" y="143.70" font-size="5.1" text-anchor="end" fill="#2a2a2a" transform="rotate(-45 473.55 143.7)">UCEC</text>
<line x1="479.88" y1="125.97" x2="479.88" y2="84.37" stroke="#6a6a6a" stroke-width="0.75"/>
<rect x="477.98" y="106.00" width="3.80" height="12.03" fill="#14BCD8" stroke="#151515" stroke-width="0.6"/>
<line x1="477.98" y1="114.45" x2="481.77" y2="114.45" stroke="#000" stroke-width="1.3"/>
<line x1="483.98" y1="85.01" x2="483.98" y2="52.24" stroke="#6a6a6a" stroke-width="0.75"/>
<circle cx="483.98" cy="95.76" r="0.7" fill="#333"/>
<circle cx="483.98" cy="93.84" r="0.7" fill="#333"/>
<rect x="482.08" y="65.04" width="3.80" height="10.37" fill="#F0503A" stroke="#151515" stroke-width="0.6"/>
<line x1="482.08" y1="69.39" x2="485.88" y2="69.39" stroke="#000" stroke-width="1.3"/>
<text x="482.12" y="37.60" font-size="5.2" text-anchor="middle" fill="#4a4a4a" textLength="6.0" lengthAdjust="spacingAndGlyphs" >***</text>
<line x1="481.93" y1="136" x2="481.93" y2="138.6" stroke="#333" stroke-width="0.6"/>
<text x="483.43" y="143.70" font-size="5.1" text-anchor="end" fill="#2a2a2a" transform="rotate(-45 483.43 143.7)">UCS</text>
<line x1="491.80" y1="127.38" x2="491.80" y2="88.08" stroke="#6a6a6a" stroke-width="0.75"/>
<circle cx="491.80" cy="82.96" r="0.7" fill="#333"/>
<rect x="488.50" y="107.66" width="6.60" height="10.75" fill="#F0503A" stroke="#151515" stroke-width="0.6"/>
<line x1="488.50" y1="113.04" x2="495.10" y2="113.04" stroke="#000" stroke-width="1.3"/>
<line x1="491.80" y1="136" x2="491.80" y2="138.6" stroke="#333" stroke-width="0.6"/>
<text x="493.30" y="143.70" font-size="5.1" text-anchor="end" fill="#2a2a2a" transform="rotate(-45 493.30 143.7)">UVM</text>
<line x1="170" y1="28.5" x2="170" y2="136" stroke="#333" stroke-width="0.8"/>
<line x1="170" y1="136" x2="497.5" y2="136" stroke="#333" stroke-width="0.8"/>
<line x1="167.6" y1="131.60" x2="170" y2="131.60" stroke="#333" stroke-width="0.6"/>
<text x="165.30" y="133.30" font-size="4.8" text-anchor="middle" fill="#444" >0</text>
<line x1="167.6" y1="106.00" x2="170" y2="106.00" stroke="#333" stroke-width="0.6"/>
<text x="165.30" y="107.70" font-size="4.8" text-anchor="middle" fill="#444" >2</text>
<line x1="167.6" y1="80.40" x2="170" y2="80.40" stroke="#333" stroke-width="0.6"/>
<text x="165.30" y="82.10" font-size="4.8" text-anchor="middle" fill="#444" >4</text>
<line x1="167.6" y1="54.80" x2="170" y2="54.80" stroke="#333" stroke-width="0.6"/>
<text x="165.30" y="56.50" font-size="4.8" text-anchor="middle" fill="#444" >6</text>
<line x1="167.6" y1="29.20" x2="170" y2="29.20" stroke="#333" stroke-width="0.6"/>
<text x="165.30" y="30.90" font-size="4.8" text-anchor="middle" fill="#444" >8</text>
<g transform="translate(153.6 80.0) rotate(-90)"><text x="0" y="0" font-size="5.6" text-anchor="middle" fill="#222" textLength="71.2" lengthAdjust="spacingAndGlyphs">The expression of MEX3A</text></g>
<g transform="translate(158.3 102.2) rotate(-90)"><text x="0" y="0" font-size="4.8" fill="#222" textLength="40.4" lengthAdjust="spacingAndGlyphs">Log<tspan font-size="3.4" dy="1.0">2</tspan><tspan dy="-1.0"> (TPM+1)</tspan></text></g>
<line x1="502.5" y1="67.5" x2="502.5" y2="80.5" stroke="#555" stroke-width="0.5"/>
<rect x="500.3" y="68.8" width="4.6" height="3.9" fill="#1A7FA3" stroke="#222" stroke-width="0.4"/>
<rect x="500.3" y="75.1" width="4.6" height="3.9" fill="#C8392A" stroke="#222" stroke-width="0.4"/>
<text x="507.40" y="72.60" font-size="5.0" text-anchor="start" fill="#333" textLength="12.4" lengthAdjust="spacingAndGlyphs" >Normal</text>
<text x="507.40" y="78.80" font-size="5.0" text-anchor="start" fill="#333" textLength="11.6" lengthAdjust="spacingAndGlyphs" >Tumor</text>
<text x="199.30" y="208.30" font-size="8.6" text-anchor="start" fill="#111" textLength="73.2" lengthAdjust="spacingAndGlyphs" stroke="#111" stroke-width="0.215" >TCGA-GTEx-UCEC</text>
<circle cx="219.61" cy="319.25" r="1.5" fill="#0404D0"/>
<circle cx="221.21" cy="319.71" r="1.5" fill="#0404D0"/>
<circle cx="223.47" cy="320.30" r="1.5" fill="#0404D0"/>
<circle cx="218.26" cy="321.29" r="1.5" fill="#0404D0"/>
<circle cx="224.50" cy="317.18" r="1.5" fill="#0404D0"/>
<circle cx="220.71" cy="317.41" r="1.5" fill="#0404D0"/>
<circle cx="226.09" cy="317.67" r="1.5" fill="#0404D0"/>
<circle cx="215.64" cy="317.93" r="1.5" fill="#0404D0"/>
<circle cx="217.11" cy="318.21" r="1.5" fill="#0404D0"/>
<circle cx="222.25" cy="318.52" r="1.5" fill="#0404D0"/>
<circle cx="219.20" cy="318.86" r="1.5" fill="#0404D0"/>
<circle cx="221.41" cy="315.14" r="1.5" fill="#0404D0"/>
<circle cx="228.78" cy="315.33" r="1.5" fill="#0404D0"/>
<circle cx="214.21" cy="315.52" r="1.5" fill="#0404D0"/>
<circle cx="217.72" cy="315.71" r="1.5" fill="#0404D0"/>
<circle cx="216.01" cy="315.90" r="1.5" fill="#0404D0"/>
<circle cx="224.72" cy="316.10" r="1.5" fill="#0404D0"/>
<circle cx="222.96" cy="316.30" r="1.5" fill="#0404D0"/>
<circle cx="212.73" cy="316.51" r="1.5" fill="#0404D0"/>
<circle cx="219.61" cy="316.73" r="1.5" fill="#0404D0"/>
<circle cx="226.74" cy="316.95" r="1.5" fill="#0404D0"/>
<circle cx="216.59" cy="313.00" r="1.5" fill="#0404D0"/>
<circle cx="210.89" cy="313.18" r="1.5" fill="#0404D0"/>
<circle cx="212.92" cy="313.36" r="1.5" fill="#0404D0"/>
<circle cx="226.85" cy="313.53" r="1.5" fill="#0404D0"/>
<circle cx="228.27" cy="313.71" r="1.5" fill="#0404D0"/>
<circle cx="217.80" cy="313.88" r="1.5" fill="#0404D0"/>
<circle cx="230.22" cy="314.06" r="1.5" fill="#0404D0"/>
<circle cx="219.74" cy="314.24" r="1.5" fill="#0404D0"/>
<circle cx="221.71" cy="314.41" r="1.5" fill="#0404D0"/>
<circle cx="223.35" cy="314.59" r="1.5" fill="#0404D0"/>
<circle cx="214.44" cy="314.77" r="1.5" fill="#0404D0"/>
<circle cx="225.30" cy="314.96" r="1.5" fill="#0404D0"/>
<circle cx="211.19" cy="310.85" r="1.5" fill="#0404D0"/>
<circle cx="216.21" cy="311.04" r="1.5" fill="#0404D0"/>
<circle cx="217.82" cy="311.22" r="1.5" fill="#0404D0"/>
<circle cx="221.71" cy="311.40" r="1.5" fill="#0404D0"/>
<circle cx="214.74" cy="311.59" r="1.5" fill="#0404D0"/>
<circle cx="212.77" cy="311.77" r="1.5" fill="#0404D0"/>
<circle cx="230.23" cy="311.94" r="1.5" fill="#0404D0"/>
<circle cx="228.57" cy="312.12" r="1.5" fill="#0404D0"/>
<circle cx="223.15" cy="312.30" r="1.5" fill="#0404D0"/>
<circle cx="225.16" cy="312.48" r="1.5" fill="#0404D0"/>
<circle cx="226.72" cy="312.65" r="1.5" fill="#0404D0"/>
<circle cx="219.62" cy="312.83" r="1.5" fill="#0404D0"/>
<circle cx="219.54" cy="308.88" r="1.5" fill="#0404D0"/>
<circle cx="216.01" cy="309.09" r="1.5" fill="#0404D0"/>
<circle cx="218.28" cy="309.30" r="1.5" fill="#0404D0"/>
<circle cx="222.91" cy="309.50" r="1.5" fill="#0404D0"/>
<circle cx="226.74" cy="309.70" r="1.5" fill="#0404D0"/>
<circle cx="213.01" cy="309.90" r="1.5" fill="#0404D0"/>
<circle cx="224.77" cy="310.09" r="1.5" fill="#0404D0"/>
<circle cx="221.24" cy="310.29" r="1.5" fill="#0404D0"/>
<circle cx="214.78" cy="310.48" r="1.5" fill="#0404D0"/>
<circle cx="228.41" cy="310.66" r="1.5" fill="#0404D0"/>
<circle cx="218.52" cy="306.84" r="1.5" fill="#0404D0"/>
<circle cx="226.21" cy="307.09" r="1.5" fill="#0404D0"/>
<circle cx="221.97" cy="307.33" r="1.5" fill="#0404D0"/>
<circle cx="220.78" cy="307.56" r="1.5" fill="#0404D0"/>
<circle cx="214.97" cy="307.79" r="1.5" fill="#0404D0"/>
<circle cx="223.90" cy="308.02" r="1.5" fill="#0404D0"/>
<circle cx="217.35" cy="308.24" r="1.5" fill="#0404D0"/>
<circle cx="227.33" cy="308.46" r="1.5" fill="#0404D0"/>
<circle cx="213.35" cy="308.67" r="1.5" fill="#0404D0"/>
<circle cx="224.58" cy="304.66" r="1.5" fill="#0404D0"/>
<circle cx="218.33" cy="304.96" r="1.5" fill="#0404D0"/>
<circle cx="223.33" cy="305.25" r="1.5" fill="#0404D0"/>
<circle cx="216.42" cy="305.53" r="1.5" fill="#0404D0"/>
<circle cx="226.55" cy="305.81" r="1.5" fill="#0404D0"/>
<circle cx="221.47" cy="306.08" r="1.5" fill="#0404D0"/>
<circle cx="219.57" cy="306.34" r="1.5" fill="#0404D0"/>
<circle cx="214.52" cy="306.59" r="1.5" fill="#0404D0"/>
<circle cx="221.45" cy="302.65" r="1.5" fill="#0404D0"/>
<circle cx="224.76" cy="303.02" r="1.5" fill="#0404D0"/>
<circle cx="218.10" cy="303.37" r="1.5" fill="#0404D0"/>
<circle cx="219.58" cy="303.71" r="1.5" fill="#0404D0"/>
<circle cx="215.91" cy="304.04" r="1.5" fill="#0404D0"/>
<circle cx="223.18" cy="304.36" r="1.5" fill="#0404D0"/>
<circle cx="216.82" cy="300.56" r="1.5" fill="#0404D0"/>
<circle cx="220.97" cy="301.02" r="1.5" fill="#0404D0"/>
<circle cx="223.91" cy="301.46" r="1.5" fill="#0404D0"/>
<circle cx="222.43" cy="301.87" r="1.5" fill="#0404D0"/>
<circle cx="218.79" cy="302.27" r="1.5" fill="#0404D0"/>
<circle cx="219.86" cy="298.46" r="1.5" fill="#0404D0"/>
<circle cx="223.03" cy="299.03" r="1.5" fill="#0404D0"/>
<circle cx="221.18" cy="299.57" r="1.5" fill="#0404D0"/>
<circle cx="217.71" cy="300.08" r="1.5" fill="#0404D0"/>
<circle cx="222.36" cy="296.45" r="1.5" fill="#0404D0"/>
<circle cx="219.24" cy="297.18" r="1.5" fill="#0404D0"/>
<circle cx="220.95" cy="297.84" r="1.5" fill="#0404D0"/>
<circle cx="221.26" cy="294.80" r="1.5" fill="#0404D0"/>
<circle cx="219.68" cy="295.67" r="1.5" fill="#0404D0"/>
<circle cx="219.39" cy="292.75" r="1.5" fill="#0404D0"/>
<circle cx="221.26" cy="293.84" r="1.5" fill="#0404D0"/>
<circle cx="219.53" cy="290.04" r="1.5" fill="#0404D0"/>
<circle cx="221.41" cy="291.50" r="1.5" fill="#0404D0"/>
<circle cx="220.62" cy="288.26" r="1.5" fill="#0404D0"/>
<circle cx="220.20" cy="286.02" r="1.5" fill="#0404D0"/>
<circle cx="220.23" cy="282.98" r="1.5" fill="#0404D0"/>
<circle cx="220.53" cy="278.25" r="1.5" fill="#0404D0"/>
<circle cx="220.29" cy="275.14" r="1.5" fill="#0404D0"/>
<line x1="241.2" y1="274.50" x2="262" y2="274.50" stroke="#111" stroke-width="1.5"/>
<circle cx="251.49" cy="306.92" r="1.5" fill="#FA0404"/>
<circle cx="251.74" cy="302.31" r="1.5" fill="#FA0404"/>
<circle cx="251.60" cy="299.95" r="1.5" fill="#FA0404"/>
<circle cx="251.78" cy="298.31" r="1.5" fill="#FA0404"/>
<circle cx="252.56" cy="295.96" r="1.5" fill="#FA0404"/>
<circle cx="251.25" cy="297.02" r="1.5" fill="#FA0404"/>
<circle cx="250.73" cy="294.25" r="1.5" fill="#FA0404"/>
<circle cx="252.26" cy="295.05" r="1.5" fill="#FA0404"/>
<circle cx="249.29" cy="291.70" r="1.5" fill="#FA0404"/>
<circle cx="251.21" cy="292.26" r="1.5" fill="#FA0404"/>
<circle cx="252.26" cy="292.87" r="1.5" fill="#FA0404"/>
<circle cx="253.75" cy="293.52" r="1.5" fill="#FA0404"/>
<circle cx="250.29" cy="289.36" r="1.5" fill="#FA0404"/>
<circle cx="248.25" cy="289.78" r="1.5" fill="#FA0404"/>
<circle cx="251.91" cy="290.22" r="1.5" fill="#FA0404"/>
<circle cx="253.32" cy="290.69" r="1.5" fill="#FA0404"/>
<circle cx="254.64" cy="291.18" r="1.5" fill="#FA0404"/>
<circle cx="254.97" cy="287.50" r="1.5" fill="#FA0404"/>
<circle cx="253.59" cy="287.85" r="1.5" fill="#FA0404"/>
<circle cx="250.07" cy="288.20" r="1.5" fill="#FA0404"/>
<circle cx="251.94" cy="288.57" r="1.5" fill="#FA0404"/>
<circle cx="248.56" cy="288.96" r="1.5" fill="#FA0404"/>
<circle cx="254.57" cy="285.35" r="1.5" fill="#FA0404"/>
<circle cx="256.72" cy="285.64" r="1.5" fill="#FA0404"/>
<circle cx="251.65" cy="285.93" r="1.5" fill="#FA0404"/>
<circle cx="253.35" cy="286.22" r="1.5" fill="#FA0404"/>
<circle cx="246.89" cy="286.53" r="1.5" fill="#FA0404"/>
<circle cx="250.16" cy="286.84" r="1.5" fill="#FA0404"/>
<circle cx="248.51" cy="287.17" r="1.5" fill="#FA0404"/>
<circle cx="256.51" cy="283.05" r="1.5" fill="#FA0404"/>
<circle cx="250.01" cy="283.29" r="1.5" fill="#FA0404"/>
<circle cx="257.93" cy="283.53" r="1.5" fill="#FA0404"/>
<circle cx="245.56" cy="283.77" r="1.5" fill="#FA0404"/>
<circle cx="248.28" cy="284.02" r="1.5" fill="#FA0404"/>
<circle cx="247.17" cy="284.28" r="1.5" fill="#FA0404"/>
<circle cx="251.81" cy="284.54" r="1.5" fill="#FA0404"/>
<circle cx="255.19" cy="284.80" r="1.5" fill="#FA0404"/>
<circle cx="253.06" cy="285.07" r="1.5" fill="#FA0404"/>
<circle cx="248.53" cy="281.05" r="1.5" fill="#FA0404"/>
<circle cx="251.42" cy="281.26" r="1.5" fill="#FA0404"/>
<circle cx="256.19" cy="281.48" r="1.5" fill="#FA0404"/>
<circle cx="245.72" cy="281.69" r="1.5" fill="#FA0404"/>
<circle cx="255.10" cy="281.91" r="1.5" fill="#FA0404"/>
<circle cx="252.89" cy="282.13" r="1.5" fill="#FA0404"/>
<circle cx="250.24" cy="282.35" r="1.5" fill="#FA0404"/>
<circle cx="257.54" cy="282.58" r="1.5" fill="#FA0404"/>
<circle cx="247.22" cy="282.81" r="1.5" fill="#FA0404"/>
<circle cx="245.86" cy="278.87" r="1.5" fill="#FA0404"/>
<circle cx="259.83" cy="279.06" r="1.5" fill="#FA0404"/>
<circle cx="254.63" cy="279.25" r="1.5" fill="#FA0404"/>
<circle cx="257.71" cy="279.44" r="1.5" fill="#FA0404"/>
<circle cx="253.40" cy="279.64" r="1.5" fill="#FA0404"/>
<circle cx="247.43" cy="279.83" r="1.5" fill="#FA0404"/>
<circle cx="243.82" cy="280.03" r="1.5" fill="#FA0404"/>
<circle cx="248.49" cy="280.23" r="1.5" fill="#FA0404"/>
<circle cx="249.86" cy="280.43" r="1.5" fill="#FA0404"/>
<circle cx="256.64" cy="280.64" r="1.5" fill="#FA0404"/>
<circle cx="251.60" cy="280.84" r="1.5" fill="#FA0404"/>
<circle cx="255.15" cy="276.85" r="1.5" fill="#FA0404"/>
<circle cx="243.90" cy="277.03" r="1.5" fill="#FA0404"/>
<circle cx="251.51" cy="277.21" r="1.5" fill="#FA0404"/>
<circle cx="248.44" cy="277.39" r="1.5" fill="#FA0404"/>
<circle cx="246.92" cy="277.57" r="1.5" fill="#FA0404"/>
<circle cx="258.13" cy="277.75" r="1.5" fill="#FA0404"/>
<circle cx="250.54" cy="277.93" r="1.5" fill="#FA0404"/>
<circle cx="245.35" cy="278.12" r="1.5" fill="#FA0404"/>
<circle cx="259.35" cy="278.30" r="1.5" fill="#FA0404"/>
<circle cx="253.32" cy="278.49" r="1.5" fill="#FA0404"/>
<circle cx="256.06" cy="278.68" r="1.5" fill="#FA0404"/>
<circle cx="242.79" cy="274.76" r="1.5" fill="#FA0404"/>
<circle cx="244.37" cy="274.93" r="1.5" fill="#FA0404"/>
<circle cx="247.97" cy="275.10" r="1.5" fill="#FA0404"/>
<circle cx="252.85" cy="275.27" r="1.5" fill="#FA0404"/>
<circle cx="249.18" cy="275.45" r="1.5" fill="#FA0404"/>
<circle cx="246.24" cy="275.62" r="1.5" fill="#FA0404"/>
<circle cx="255.65" cy="275.79" r="1.5" fill="#FA0404"/>
<circle cx="256.98" cy="275.97" r="1.5" fill="#FA0404"/>
<circle cx="253.92" cy="276.14" r="1.5" fill="#FA0404"/>
<circle cx="250.78" cy="276.32" r="1.5" fill="#FA0404"/>
<circle cx="260.12" cy="276.49" r="1.5" fill="#FA0404"/>
<circle cx="258.75" cy="276.67" r="1.5" fill="#FA0404"/>
<circle cx="247.57" cy="272.71" r="1.5" fill="#FA0404"/>
<circle cx="250.87" cy="272.88" r="1.5" fill="#FA0404"/>
<circle cx="255.73" cy="273.05" r="1.5" fill="#FA0404"/>
<circle cx="258.36" cy="273.22" r="1.5" fill="#FA0404"/>
<circle cx="256.98" cy="273.39" r="1.5" fill="#FA0404"/>
<circle cx="260.09" cy="273.56" r="1.5" fill="#FA0404"/>
<circle cx="254.29" cy="273.73" r="1.5" fill="#FA0404"/>
<circle cx="246.23" cy="273.90" r="1.5" fill="#FA0404"/>
<circle cx="243.46" cy="274.07" r="1.5" fill="#FA0404"/>
<circle cx="244.46" cy="274.24" r="1.5" fill="#FA0404"/>
<circle cx="252.34" cy="274.41" r="1.5" fill="#FA0404"/>
<circle cx="249.50" cy="274.59" r="1.5" fill="#FA0404"/>
<circle cx="259.70" cy="270.47" r="1.5" fill="#FA0404"/>
<circle cx="251.81" cy="270.65" r="1.5" fill="#FA0404"/>
<circle cx="261.25" cy="270.82" r="1.5" fill="#FA0404"/>
<circle cx="250.03" cy="270.99" r="1.5" fill="#FA0404"/>
<circle cx="245.20" cy="271.17" r="1.5" fill="#FA0404"/>
<circle cx="254.63" cy="271.34" r="1.5" fill="#FA0404"/>
<circle cx="258.14" cy="271.51" r="1.5" fill="#FA0404"/>
<circle cx="242.22" cy="271.68" r="1.5" fill="#FA0404"/>
<circle cx="243.83" cy="271.85" r="1.5" fill="#FA0404"/>
<circle cx="246.98" cy="272.03" r="1.5" fill="#FA0404"/>
<circle cx="248.54" cy="272.20" r="1.5" fill="#FA0404"/>
<circle cx="253.18" cy="272.37" r="1.5" fill="#FA0404"/>
<circle cx="256.69" cy="272.54" r="1.5" fill="#FA0404"/>
<circle cx="245.13" cy="268.51" r="1.5" fill="#FA0404"/>
<circle cx="256.32" cy="268.69" r="1.5" fill="#FA0404"/>
<circle cx="259.65" cy="268.87" r="1.5" fill="#FA0404"/>
<circle cx="258.10" cy="269.05" r="1.5" fill="#FA0404"/>
<circle cx="252.07" cy="269.23" r="1.5" fill="#FA0404"/>
<circle cx="250.19" cy="269.41" r="1.5" fill="#FA0404"/>
<circle cx="253.56" cy="269.59" r="1.5" fill="#FA0404"/>
<circle cx="255.09" cy="269.77" r="1.5" fill="#FA0404"/>
<circle cx="244.24" cy="269.95" r="1.5" fill="#FA0404"/>
<circle cx="248.98" cy="270.12" r="1.5" fill="#FA0404"/>
<circle cx="246.75" cy="270.30" r="1.5" fill="#FA0404"/>
<circle cx="246.79" cy="266.41" r="1.5" fill="#FA0404"/>
<circle cx="253.09" cy="266.61" r="1.5" fill="#FA0404"/>
<circle cx="245.63" cy="266.80" r="1.5" fill="#FA0404"/>
<circle cx="251.72" cy="267.00" r="1.5" fill="#FA0404"/>
<circle cx="256.28" cy="267.19" r="1.5" fill="#FA0404"/>
<circle cx="250.50" cy="267.38" r="1.5" fill="#FA0404"/>
<circle cx="254.89" cy="267.57" r="1.5" fill="#FA0404"/>
<circle cx="259.32" cy="267.76" r="1.5" fill="#FA0404"/>
<circle cx="257.70" cy="267.95" r="1.5" fill="#FA0404"/>
<circle cx="244.24" cy="268.14" r="1.5" fill="#FA0404"/>
<circle cx="248.58" cy="268.32" r="1.5" fill="#FA0404"/>
<circle cx="254.26" cy="264.31" r="1.5" fill="#FA0404"/>
<circle cx="248.16" cy="264.53" r="1.5" fill="#FA0404"/>
<circle cx="255.82" cy="264.75" r="1.5" fill="#FA0404"/>
<circle cx="257.38" cy="264.96" r="1.5" fill="#FA0404"/>
<circle cx="250.53" cy="265.18" r="1.5" fill="#FA0404"/>
<circle cx="258.78" cy="265.39" r="1.5" fill="#FA0404"/>
<circle cx="246.57" cy="265.60" r="1.5" fill="#FA0404"/>
<circle cx="249.01" cy="265.80" r="1.5" fill="#FA0404"/>
<circle cx="252.29" cy="266.01" r="1.5" fill="#FA0404"/>
<circle cx="244.54" cy="266.21" r="1.5" fill="#FA0404"/>
<circle cx="246.69" cy="262.16" r="1.5" fill="#FA0404"/>
<circle cx="251.34" cy="262.42" r="1.5" fill="#FA0404"/>
<circle cx="253.24" cy="262.67" r="1.5" fill="#FA0404"/>
<circle cx="255.98" cy="262.91" r="1.5" fill="#FA0404"/>
<circle cx="248.77" cy="263.15" r="1.5" fill="#FA0404"/>
<circle cx="250.16" cy="263.39" r="1.5" fill="#FA0404"/>
<circle cx="245.49" cy="263.63" r="1.5" fill="#FA0404"/>
<circle cx="254.53" cy="263.86" r="1.5" fill="#FA0404"/>
<circle cx="257.56" cy="264.09" r="1.5" fill="#FA0404"/>
<circle cx="246.80" cy="260.22" r="1.5" fill="#FA0404"/>
<circle cx="253.11" cy="260.51" r="1.5" fill="#FA0404"/>
<circle cx="248.30" cy="260.80" r="1.5" fill="#FA0404"/>
<circle cx="250.19" cy="261.09" r="1.5" fill="#FA0404"/>
<circle cx="256.52" cy="261.37" r="1.5" fill="#FA0404"/>
<circle cx="254.70" cy="261.64" r="1.5" fill="#FA0404"/>
<circle cx="251.36" cy="261.90" r="1.5" fill="#FA0404"/>
<circle cx="254.91" cy="257.87" r="1.5" fill="#FA0404"/>
<circle cx="255.98" cy="258.24" r="1.5" fill="#FA0404"/>
<circle cx="253.56" cy="258.59" r="1.5" fill="#FA0404"/>
<circle cx="251.34" cy="258.94" r="1.5" fill="#FA0404"/>
<circle cx="250.25" cy="259.27" r="1.5" fill="#FA0404"/>
<circle cx="247.26" cy="259.60" r="1.5" fill="#FA0404"/>
<circle cx="248.45" cy="259.91" r="1.5" fill="#FA0404"/>
<circle cx="249.92" cy="255.75" r="1.5" fill="#FA0404"/>
<circle cx="251.52" cy="256.22" r="1.5" fill="#FA0404"/>
<circle cx="248.67" cy="256.66" r="1.5" fill="#FA0404"/>
<circle cx="255.04" cy="257.08" r="1.5" fill="#FA0404"/>
<circle cx="253.03" cy="257.48" r="1.5" fill="#FA0404"/>
<circle cx="252.05" cy="254.18" r="1.5" fill="#FA0404"/>
<circle cx="253.15" cy="254.74" r="1.5" fill="#FA0404"/>
<circle cx="250.47" cy="255.26" r="1.5" fill="#FA0404"/>
<circle cx="253.22" cy="252.19" r="1.5" fill="#FA0404"/>
<circle cx="249.85" cy="252.92" r="1.5" fill="#FA0404"/>
<circle cx="251.95" cy="253.57" r="1.5" fill="#FA0404"/>
<circle cx="251.06" cy="250.48" r="1.5" fill="#FA0404"/>
<circle cx="252.66" cy="251.39" r="1.5" fill="#FA0404"/>
<circle cx="252.72" cy="248.13" r="1.5" fill="#FA0404"/>
<circle cx="251.10" cy="249.42" r="1.5" fill="#FA0404"/>
<circle cx="251.68" cy="246.49" r="1.5" fill="#FA0404"/>
<circle cx="252.69" cy="243.14" r="1.5" fill="#FA0404"/>
<circle cx="250.56" cy="244.13" r="1.5" fill="#FA0404"/>
<circle cx="251.37" cy="316.74" r="1.5" fill="#FA0404"/>
<circle cx="251.38" cy="312.90" r="1.5" fill="#FA0404"/>
<line x1="210.5" y1="303.94" x2="231" y2="303.94" stroke="#111" stroke-width="1.5"/>
<line x1="200.2" y1="222.8" x2="200.2" y2="326.2" stroke="#111" stroke-width="1.4"/>
<line x1="194.90" y1="325.70" x2="200.2" y2="325.70" stroke="#111" stroke-width="1.4"/>
<text x="193.50" y="328.17" font-size="8.8" text-anchor="end" fill="#1a1a1a" stroke="#1a1a1a" stroke-width="0.22" >0</text>
<line x1="194.90" y1="300.10" x2="200.2" y2="300.10" stroke="#111" stroke-width="1.4"/>
<text x="193.50" y="302.57" font-size="8.8" text-anchor="end" fill="#1a1a1a" stroke="#1a1a1a" stroke-width="0.22" >2</text>
<line x1="194.90" y1="274.50" x2="200.2" y2="274.50" stroke="#111" stroke-width="1.4"/>
<text x="193.50" y="276.97" font-size="8.8" text-anchor="end" fill="#1a1a1a" stroke="#1a1a1a" stroke-width="0.22" >4</text>
<line x1="194.90" y1="248.90" x2="200.2" y2="248.90" stroke="#111" stroke-width="1.4"/>
<text x="193.50" y="251.37" font-size="8.8" text-anchor="end" fill="#1a1a1a" stroke="#1a1a1a" stroke-width="0.22" >6</text>
<line x1="194.90" y1="223.30" x2="200.2" y2="223.30" stroke="#111" stroke-width="1.4"/>
<text x="193.50" y="225.77" font-size="8.8" text-anchor="end" fill="#1a1a1a" stroke="#1a1a1a" stroke-width="0.22" >8</text>
<line x1="199.65" y1="325.7" x2="265.5" y2="325.7" stroke="#111" stroke-width="1.4"/>
<line x1="220.6" y1="325.7" x2="220.6" y2="331.7" stroke="#111" stroke-width="1.4"/>
<line x1="251.7" y1="325.7" x2="251.7" y2="331.7" stroke="#111" stroke-width="1.4"/>
<polyline points="220.6,268.6 220.6,227.9 251.8,227.9 251.8,237.7" fill="none" stroke="#111" stroke-width="1.25"/>
<text x="231.60" y="226.98" font-size="8.0" text-anchor="middle" fill="#111" stroke="#111" stroke-width="0.2" font-weight="bold">*</text>
<text x="236.30" y="226.98" font-size="8.0" text-anchor="middle" fill="#111" stroke="#111" stroke-width="0.2" font-weight="bold">*</text>
<text x="241.00" y="226.98" font-size="8.0" text-anchor="middle" fill="#111" stroke="#111" stroke-width="0.2" font-weight="bold">*</text>
<g transform="translate(182.8 275.05) rotate(-90)"><text x="0" y="0" font-size="8.8" textLength="107.5" lengthAdjust="spacingAndGlyphs" text-anchor="middle" fill="#111" stroke="#111" stroke-width="0.2">Relative mRNA expression</text></g>
<text x="206.20" y="341.00" font-size="8.9" text-anchor="start" fill="#111" textLength="26.7" lengthAdjust="spacingAndGlyphs" stroke="#111" stroke-width="0.223" >Normal</text>
<text x="238.60" y="341.00" font-size="8.9" text-anchor="start" fill="#111" textLength="23.8" lengthAdjust="spacingAndGlyphs" stroke="#111" stroke-width="0.223" >Tumor</text>
<text x="206.20" y="351.30" font-size="8.9" text-anchor="start" fill="#111" textLength="28.6" lengthAdjust="spacingAndGlyphs" stroke="#111" stroke-width="0.223" >(n=101)</text>
<text x="237.00" y="351.30" font-size="8.9" text-anchor="start" fill="#111" textLength="28.6" lengthAdjust="spacingAndGlyphs" stroke="#111" stroke-width="0.223" >(n=181)</text>
<text x="329.80" y="207.90" font-size="8.2" text-anchor="start" fill="#111" textLength="47.2" lengthAdjust="spacingAndGlyphs" stroke="#111" stroke-width="0.205" >GSE 17025</text>
<line x1="336.7" y1="283.10" x2="336.7" y2="306.91" stroke="#0404D0" stroke-width="0.8"/>
<line x1="330.6" y1="283.10" x2="343" y2="283.10" stroke="#0404D0" stroke-width="0.8"/>
<line x1="330.6" y1="306.91" x2="343" y2="306.91" stroke="#0404D0" stroke-width="0.8"/>
<circle cx="336.70" cy="273.89" r="1.55" fill="#0404D0"/>
<circle cx="330.90" cy="282.59" r="1.55" fill="#0404D0"/>
<circle cx="342.30" cy="284.13" r="1.55" fill="#0404D0"/>
<circle cx="336.70" cy="287.71" r="1.55" fill="#0404D0"/>
<circle cx="330.90" cy="294.37" r="1.55" fill="#0404D0"/>
<circle cx="336.70" cy="294.88" r="1.55" fill="#0404D0"/>
<circle cx="331.00" cy="300.00" r="1.55" fill="#0404D0"/>
<circle cx="342.30" cy="301.28" r="1.55" fill="#0404D0"/>
<circle cx="331.00" cy="306.40" r="1.55" fill="#0404D0"/>
<circle cx="342.30" cy="306.40" r="1.55" fill="#0404D0"/>
<circle cx="336.70" cy="307.68" r="1.55" fill="#0404D0"/>
<circle cx="336.70" cy="315.87" r="1.55" fill="#0404D0"/>
<line x1="326.2" y1="295.14" x2="347.1" y2="295.14" stroke="#111" stroke-width="1.5"/>
<circle cx="369.64" cy="308.96" r="1.55" fill="#FA0404"/>
<circle cx="369.56" cy="306.92" r="1.55" fill="#FA0404"/>
<circle cx="369.74" cy="303.92" r="1.55" fill="#FA0404"/>
<circle cx="369.59" cy="301.79" r="1.55" fill="#FA0404"/>
<circle cx="370.96" cy="298.72" r="1.55" fill="#FA0404"/>
<circle cx="368.38" cy="300.12" r="1.55" fill="#FA0404"/>
<circle cx="368.53" cy="296.43" r="1.55" fill="#FA0404"/>
<circle cx="371.41" cy="297.51" r="1.55" fill="#FA0404"/>
<circle cx="372.57" cy="293.74" r="1.55" fill="#FA0404"/>
<circle cx="369.60" cy="294.57" r="1.55" fill="#FA0404"/>
<circle cx="366.66" cy="295.46" r="1.55" fill="#FA0404"/>
<circle cx="371.43" cy="290.90" r="1.55" fill="#FA0404"/>
<circle cx="373.97" cy="291.55" r="1.55" fill="#FA0404"/>
<circle cx="365.34" cy="292.24" r="1.55" fill="#FA0404"/>
<circle cx="368.43" cy="292.97" r="1.55" fill="#FA0404"/>
<circle cx="374.25" cy="288.53" r="1.55" fill="#FA0404"/>
<circle cx="368.35" cy="289.09" r="1.55" fill="#FA0404"/>
<circle cx="365.26" cy="289.67" r="1.55" fill="#FA0404"/>
<circle cx="371.23" cy="290.27" r="1.55" fill="#FA0404"/>
<circle cx="371.29" cy="285.49" r="1.55" fill="#FA0404"/>
<circle cx="365.68" cy="285.97" r="1.55" fill="#FA0404"/>
<circle cx="377.26" cy="286.46" r="1.55" fill="#FA0404"/>
<circle cx="368.36" cy="286.96" r="1.55" fill="#FA0404"/>
<circle cx="374.10" cy="287.47" r="1.55" fill="#FA0404"/>
<circle cx="362.61" cy="287.99" r="1.55" fill="#FA0404"/>
<circle cx="366.78" cy="283.24" r="1.55" fill="#FA0404"/>
<circle cx="369.99" cy="283.68" r="1.55" fill="#FA0404"/>
<circle cx="363.73" cy="284.12" r="1.55" fill="#FA0404"/>
<circle cx="375.33" cy="284.57" r="1.55" fill="#FA0404"/>
<circle cx="372.78" cy="285.03" r="1.55" fill="#FA0404"/>
<circle cx="360.89" cy="280.33" r="1.55" fill="#FA0404"/>
<circle cx="364.10" cy="280.73" r="1.55" fill="#FA0404"/>
<circle cx="378.24" cy="281.14" r="1.55" fill="#FA0404"/>
<circle cx="370.05" cy="281.55" r="1.55" fill="#FA0404"/>
<circle cx="375.68" cy="281.97" r="1.55" fill="#FA0404"/>
<circle cx="372.66" cy="282.39" r="1.55" fill="#FA0404"/>
<circle cx="366.71" cy="282.81" r="1.55" fill="#FA0404"/>
<circle cx="365.69" cy="277.94" r="1.55" fill="#FA0404"/>
<circle cx="362.31" cy="278.33" r="1.55" fill="#FA0404"/>
<circle cx="376.79" cy="278.73" r="1.55" fill="#FA0404"/>
<circle cx="368.19" cy="279.13" r="1.55" fill="#FA0404"/>
<circle cx="374.31" cy="279.52" r="1.55" fill="#FA0404"/>
<circle cx="371.32" cy="279.92" r="1.55" fill="#FA0404"/>
<circle cx="375.32" cy="275.19" r="1.55" fill="#FA0404"/>
<circle cx="372.61" cy="275.59" r="1.55" fill="#FA0404"/>
<circle cx="369.55" cy="275.98" r="1.55" fill="#FA0404"/>
<circle cx="378.78" cy="276.37" r="1.55" fill="#FA0404"/>
<circle cx="366.77" cy="276.76" r="1.55" fill="#FA0404"/>
<circle cx="361.21" cy="277.16" r="1.55" fill="#FA0404"/>
<circle cx="363.90" cy="277.55" r="1.55" fill="#FA0404"/>
<circle cx="371.47" cy="272.78" r="1.55" fill="#FA0404"/>
<circle cx="365.67" cy="273.19" r="1.55" fill="#FA0404"/>
<circle cx="362.66" cy="273.59" r="1.55" fill="#FA0404"/>
<circle cx="373.90" cy="274.00" r="1.55" fill="#FA0404"/>
<circle cx="377.12" cy="274.40" r="1.55" fill="#FA0404"/>
<circle cx="368.59" cy="274.79" r="1.55" fill="#FA0404"/>
<circle cx="371.15" cy="270.24" r="1.55" fill="#FA0404"/>
<circle cx="362.26" cy="270.68" r="1.55" fill="#FA0404"/>
<circle cx="373.88" cy="271.11" r="1.55" fill="#FA0404"/>
<circle cx="376.85" cy="271.53" r="1.55" fill="#FA0404"/>
<circle cx="365.62" cy="271.95" r="1.55" fill="#FA0404"/>
<circle cx="368.27" cy="272.37" r="1.55" fill="#FA0404"/>
<circle cx="377.00" cy="267.46" r="1.55" fill="#FA0404"/>
<circle cx="371.07" cy="267.95" r="1.55" fill="#FA0404"/>
<circle cx="365.19" cy="268.43" r="1.55" fill="#FA0404"/>
<circle cx="362.28" cy="268.89" r="1.55" fill="#FA0404"/>
<circle cx="373.95" cy="269.35" r="1.55" fill="#FA0404"/>
<circle cx="368.46" cy="269.80" r="1.55" fill="#FA0404"/>
<circle cx="372.75" cy="264.83" r="1.55" fill="#FA0404"/>
<circle cx="375.49" cy="265.39" r="1.55" fill="#FA0404"/>
<circle cx="369.52" cy="265.93" r="1.55" fill="#FA0404"/>
<circle cx="364.20" cy="266.45" r="1.55" fill="#FA0404"/>
<circle cx="366.78" cy="266.96" r="1.55" fill="#FA0404"/>
<circle cx="368.34" cy="262.37" r="1.55" fill="#FA0404"/>
<circle cx="365.30" cy="263.02" r="1.55" fill="#FA0404"/>
<circle cx="371.20" cy="263.65" r="1.55" fill="#FA0404"/>
<circle cx="373.87" cy="264.25" r="1.55" fill="#FA0404"/>
<circle cx="366.75" cy="260.18" r="1.55" fill="#FA0404"/>
<circle cx="372.93" cy="260.95" r="1.55" fill="#FA0404"/>
<circle cx="370.00" cy="261.68" r="1.55" fill="#FA0404"/>
<circle cx="372.42" cy="257.49" r="1.55" fill="#FA0404"/>
<circle cx="366.75" cy="258.46" r="1.55" fill="#FA0404"/>
<circle cx="369.65" cy="259.35" r="1.55" fill="#FA0404"/>
<circle cx="371.41" cy="255.20" r="1.55" fill="#FA0404"/>
<circle cx="368.30" cy="256.41" r="1.55" fill="#FA0404"/>
<circle cx="368.14" cy="252.13" r="1.55" fill="#FA0404"/>
<circle cx="370.98" cy="253.80" r="1.55" fill="#FA0404"/>
<circle cx="370.06" cy="250.00" r="1.55" fill="#FA0404"/>
<circle cx="371.54" cy="247.52" r="1.55" fill="#FA0404"/>
<circle cx="368.29" cy="247.52" r="1.55" fill="#FA0404"/>
<circle cx="370.04" cy="230.88" r="1.55" fill="#FA0404"/>
<line x1="358.6" y1="276.96" x2="381" y2="276.96" stroke="#111" stroke-width="1.5"/>
<line x1="315.0" y1="222.7" x2="315.0" y2="326.3" stroke="#111" stroke-width="1.4"/>
<line x1="309.70" y1="325.60" x2="315.0" y2="325.60" stroke="#111" stroke-width="1.4"/>
<text x="308.10" y="328.07" font-size="8.8" text-anchor="end" fill="#1a1a1a" stroke="#1a1a1a" stroke-width="0.22" >7</text>
<line x1="309.70" y1="300.00" x2="315.0" y2="300.00" stroke="#111" stroke-width="1.4"/>
<text x="308.10" y="302.47" font-size="8.8" text-anchor="end" fill="#1a1a1a" stroke="#1a1a1a" stroke-width="0.22" >8</text>
<line x1="309.70" y1="274.40" x2="315.0" y2="274.40" stroke="#111" stroke-width="1.4"/>
<text x="308.10" y="276.87" font-size="8.8" text-anchor="end" fill="#1a1a1a" stroke="#1a1a1a" stroke-width="0.22" >9</text>
<line x1="309.70" y1="248.80" x2="315.0" y2="248.80" stroke="#111" stroke-width="1.4"/>
<text x="308.10" y="251.27" font-size="8.8" text-anchor="end" fill="#1a1a1a" stroke="#1a1a1a" stroke-width="0.22" >10</text>
<line x1="309.70" y1="223.20" x2="315.0" y2="223.20" stroke="#111" stroke-width="1.4"/>
<text x="308.10" y="225.67" font-size="8.8" text-anchor="end" fill="#1a1a1a" stroke="#1a1a1a" stroke-width="0.22" >11</text>
<line x1="314.3" y1="325.60" x2="386" y2="325.60" stroke="#111" stroke-width="1.4"/>
<line x1="336.7" y1="325.60" x2="336.7" y2="331.60" stroke="#111" stroke-width="1.4"/>
<line x1="369.6" y1="325.60" x2="369.6" y2="331.60" stroke="#111" stroke-width="1.4"/>
<polyline points="336.9,267.6 336.9,223.9 369.6,223.9 369.6,229.7" fill="none" stroke="#111" stroke-width="1.25"/>
<text x="348.90" y="221.98" font-size="8.0" text-anchor="middle" fill="#111" stroke="#111" stroke-width="0.2" font-weight="bold">*</text>
<text x="354.00" y="221.98" font-size="8.0" text-anchor="middle" fill="#111" stroke="#111" stroke-width="0.2" font-weight="bold">*</text>
<text x="359.10" y="221.98" font-size="8.0" text-anchor="middle" fill="#111" stroke="#111" stroke-width="0.2" font-weight="bold">*</text>
<g transform="translate(291.1 275.05) rotate(-90)"><text x="0" y="0" font-size="8.8" textLength="107.5" lengthAdjust="spacingAndGlyphs" text-anchor="middle" fill="#111" stroke="#111" stroke-width="0.2">Relative mRNA expression</text></g>
<text x="321.00" y="341.00" font-size="8.9" text-anchor="start" fill="#111" textLength="28.8" lengthAdjust="spacingAndGlyphs" stroke="#111" stroke-width="0.223" >Normal</text>
<text x="356.10" y="341.00" font-size="8.9" text-anchor="start" fill="#111" textLength="24.3" lengthAdjust="spacingAndGlyphs" stroke="#111" stroke-width="0.223" >Tumor</text>
<text x="323.50" y="351.30" font-size="8.9" text-anchor="start" fill="#111" textLength="25.4" lengthAdjust="spacingAndGlyphs" stroke="#111" stroke-width="0.223" >(n=12)</text>
<text x="356.70" y="351.30" font-size="8.9" text-anchor="start" fill="#111" textLength="25.8" lengthAdjust="spacingAndGlyphs" stroke="#111" stroke-width="0.223" >(n=91)</text>
<text x="449.80" y="207.90" font-size="8.2" text-anchor="start" fill="#111" textLength="48.9" lengthAdjust="spacingAndGlyphs" stroke="#111" stroke-width="0.205" >GSE183185</text>
<line x1="458" y1="281.03" x2="490.4" y2="255.00" stroke="#222" stroke-width="0.65"/>
<line x1="458" y1="287.03" x2="490.4" y2="295.07" stroke="#222" stroke-width="0.65"/>
<line x1="458" y1="300.90" x2="490.4" y2="275.55" stroke="#222" stroke-width="0.65"/>
<line x1="458" y1="305.52" x2="490.4" y2="304.49" stroke="#222" stroke-width="0.65"/>
<line x1="458" y1="311.00" x2="490.4" y2="291.99" stroke="#222" stroke-width="0.65"/>
<line x1="458" y1="312.88" x2="490.4" y2="297.47" stroke="#222" stroke-width="0.65"/>
<line x1="458" y1="314.25" x2="490.4" y2="301.75" stroke="#222" stroke-width="0.65"/>
<line x1="458" y1="315.62" x2="490.4" y2="308.09" stroke="#222" stroke-width="0.65"/>
<line x1="458" y1="316.65" x2="490.4" y2="306.55" stroke="#222" stroke-width="0.65"/>
<line x1="458" y1="317.34" x2="490.4" y2="310.14" stroke="#222" stroke-width="0.65"/>
<line x1="458" y1="318.02" x2="490.4" y2="312.20" stroke="#222" stroke-width="0.65"/>
<line x1="458" y1="318.71" x2="490.4" y2="299.70" stroke="#222" stroke-width="0.65"/>
<line x1="458" y1="319.22" x2="490.4" y2="314.43" stroke="#222" stroke-width="0.65"/>
<line x1="458" y1="319.73" x2="490.4" y2="316.48" stroke="#222" stroke-width="0.65"/>
<line x1="458" y1="320.25" x2="490.4" y2="313.23" stroke="#222" stroke-width="0.65"/>
<line x1="458" y1="320.76" x2="490.4" y2="303.64" stroke="#222" stroke-width="0.65"/>
<line x1="458" y1="321.28" x2="490.4" y2="318.54" stroke="#222" stroke-width="0.65"/>
<line x1="458" y1="321.79" x2="490.4" y2="320.59" stroke="#222" stroke-width="0.65"/>
<line x1="458" y1="322.30" x2="490.4" y2="315.62" stroke="#222" stroke-width="0.65"/>
<line x1="458" y1="322.65" x2="490.4" y2="311.17" stroke="#222" stroke-width="0.65"/>
<line x1="458" y1="322.99" x2="490.4" y2="322.13" stroke="#222" stroke-width="0.65"/>
<line x1="458" y1="323.33" x2="490.4" y2="317.34" stroke="#222" stroke-width="0.65"/>
<line x1="458" y1="323.67" x2="490.4" y2="305.35" stroke="#222" stroke-width="0.65"/>
<line x1="458" y1="324.02" x2="490.4" y2="319.73" stroke="#222" stroke-width="0.65"/>
<line x1="458" y1="324.36" x2="490.4" y2="308.77" stroke="#222" stroke-width="0.65"/>
<line x1="458" y1="324.53" x2="490.4" y2="317.68" stroke="#222" stroke-width="0.65"/>
<line x1="458" y1="324.70" x2="490.4" y2="313.91" stroke="#222" stroke-width="0.65"/>
<line x1="458" y1="324.87" x2="490.4" y2="321.45" stroke="#222" stroke-width="0.65"/>
<line x1="458" y1="325.04" x2="490.4" y2="309.46" stroke="#222" stroke-width="0.65"/>
<line x1="458" y1="322.47" x2="490.4" y2="231.03" stroke="#222" stroke-width="0.65"/>
<circle cx="458.00" cy="281.03" r="1.55" fill="#0404D0"/>
<circle cx="458.00" cy="287.03" r="1.55" fill="#0404D0"/>
<circle cx="458.00" cy="300.90" r="1.55" fill="#0404D0"/>
<circle cx="458.00" cy="305.52" r="1.55" fill="#0404D0"/>
<circle cx="458.00" cy="311.00" r="1.55" fill="#0404D0"/>
<circle cx="458.00" cy="312.88" r="1.55" fill="#0404D0"/>
<circle cx="458.00" cy="314.25" r="1.55" fill="#0404D0"/>
<circle cx="458.00" cy="315.62" r="1.55" fill="#0404D0"/>
<circle cx="458.00" cy="316.65" r="1.55" fill="#0404D0"/>
<circle cx="458.00" cy="317.34" r="1.55" fill="#0404D0"/>
<circle cx="458.00" cy="318.02" r="1.55" fill="#0404D0"/>
<circle cx="458.00" cy="318.71" r="1.55" fill="#0404D0"/>
<circle cx="458.00" cy="319.22" r="1.55" fill="#0404D0"/>
<circle cx="458.00" cy="319.73" r="1.55" fill="#0404D0"/>
<circle cx="458.00" cy="320.25" r="1.55" fill="#0404D0"/>
<circle cx="458.00" cy="320.76" r="1.55" fill="#0404D0"/>
<circle cx="458.00" cy="321.28" r="1.55" fill="#0404D0"/>
<circle cx="458.00" cy="321.79" r="1.55" fill="#0404D0"/>
<circle cx="458.00" cy="322.30" r="1.55" fill="#0404D0"/>
<circle cx="458.00" cy="322.65" r="1.55" fill="#0404D0"/>
<circle cx="458.00" cy="322.99" r="1.55" fill="#0404D0"/>
<circle cx="458.00" cy="323.33" r="1.55" fill="#0404D0"/>
<circle cx="458.00" cy="323.67" r="1.55" fill="#0404D0"/>
<circle cx="458.00" cy="324.02" r="1.55" fill="#0404D0"/>
<circle cx="458.00" cy="324.36" r="1.55" fill="#0404D0"/>
<circle cx="458.00" cy="324.53" r="1.55" fill="#0404D0"/>
<circle cx="458.00" cy="324.70" r="1.55" fill="#0404D0"/>
<circle cx="458.00" cy="324.87" r="1.55" fill="#0404D0"/>
<circle cx="458.00" cy="325.04" r="1.55" fill="#0404D0"/>
<circle cx="458.00" cy="322.47" r="1.55" fill="#0404D0"/>
<circle cx="490.40" cy="255.00" r="1.55" fill="#FA0404"/>
<circle cx="490.40" cy="295.07" r="1.55" fill="#FA0404"/>
<circle cx="490.40" cy="275.55" r="1.55" fill="#FA0404"/>
<circle cx="490.40" cy="304.49" r="1.55" fill="#FA0404"/>
<circle cx="490.40" cy="291.99" r="1.55" fill="#FA0404"/>
<circle cx="490.40" cy="297.47" r="1.55" fill="#FA0404"/>
<circle cx="490.40" cy="301.75" r="1.55" fill="#FA0404"/>
<circle cx="490.40" cy="308.09" r="1.55" fill="#FA0404"/>
<circle cx="490.40" cy="306.55" r="1.55" fill="#FA0404"/>
<circle cx="490.40" cy="310.14" r="1.55" fill="#FA0404"/>
<circle cx="490.40" cy="312.20" r="1.55" fill="#FA0404"/>
<circle cx="490.40" cy="299.70" r="1.55" fill="#FA0404"/>
<circle cx="490.40" cy="314.43" r="1.55" fill="#FA0404"/>
<circle cx="490.40" cy="316.48" r="1.55" fill="#FA0404"/>
<circle cx="490.40" cy="313.23" r="1.55" fill="#FA0404"/>
<circle cx="490.40" cy="303.64" r="1.55" fill="#FA0404"/>
<circle cx="490.40" cy="318.54" r="1.55" fill="#FA0404"/>
<circle cx="490.40" cy="320.59" r="1.55" fill="#FA0404"/>
<circle cx="490.40" cy="315.62" r="1.55" fill="#FA0404"/>
<circle cx="490.40" cy="311.17" r="1.55" fill="#FA0404"/>
<circle cx="490.40" cy="322.13" r="1.55" fill="#FA0404"/>
<circle cx="490.40" cy="317.34" r="1.55" fill="#FA0404"/>
<circle cx="490.40" cy="305.35" r="1.55" fill="#FA0404"/>
<circle cx="490.40" cy="319.73" r="1.55" fill="#FA0404"/>
<circle cx="490.40" cy="308.77" r="1.55" fill="#FA0404"/>
<circle cx="490.40" cy="317.68" r="1.55" fill="#FA0404"/>
<circle cx="490.40" cy="313.91" r="1.55" fill="#FA0404"/>
<circle cx="490.40" cy="321.45" r="1.55" fill="#FA0404"/>
<circle cx="490.40" cy="309.46" r="1.55" fill="#FA0404"/>
<circle cx="490.40" cy="231.03" r="1.55" fill="#FA0404"/>
<line x1="436.4" y1="222.6" x2="436.4" y2="326.4" stroke="#111" stroke-width="1.4"/>
<line x1="431.10" y1="325.90" x2="436.4" y2="325.90" stroke="#111" stroke-width="1.4"/>
<text x="429.00" y="328.37" font-size="8.8" text-anchor="end" fill="#1a1a1a" stroke="#1a1a1a" stroke-width="0.22" >0</text>
<line x1="431.10" y1="291.65" x2="436.4" y2="291.65" stroke="#111" stroke-width="1.4"/>
<text x="429.00" y="294.12" font-size="8.8" text-anchor="end" fill="#1a1a1a" stroke="#1a1a1a" stroke-width="0.22" >20</text>
<line x1="431.10" y1="257.40" x2="436.4" y2="257.40" stroke="#111" stroke-width="1.4"/>
<text x="429.00" y="259.87" font-size="8.8" text-anchor="end" fill="#1a1a1a" stroke="#1a1a1a" stroke-width="0.22" >40</text>
<line x1="431.10" y1="223.15" x2="436.4" y2="223.15" stroke="#111" stroke-width="1.4"/>
<text x="429.00" y="225.62" font-size="8.8" text-anchor="end" fill="#1a1a1a" stroke="#1a1a1a" stroke-width="0.22" >60</text>
<line x1="435.7" y1="325.9" x2="510" y2="325.9" stroke="#111" stroke-width="1.4"/>
<line x1="458" y1="325.9" x2="458" y2="331.9" stroke="#111" stroke-width="1.4"/>
<line x1="490.4" y1="325.9" x2="490.4" y2="331.9" stroke="#111" stroke-width="1.4"/>
<polyline points="458.0,258.4 458.0,221.3 489.4,221.3 489.4,227.0" fill="none" stroke="#111" stroke-width="1.25"/>
<text x="468.90" y="221.08" font-size="8.0" text-anchor="middle" fill="#111" stroke="#111" stroke-width="0.2" font-weight="bold">*</text>
<text x="473.80" y="221.08" font-size="8.0" text-anchor="middle" fill="#111" stroke="#111" stroke-width="0.2" font-weight="bold">*</text>
<text x="478.70" y="221.08" font-size="8.0" text-anchor="middle" fill="#111" stroke="#111" stroke-width="0.2" font-weight="bold">*</text>
<g transform="translate(412.7 275.05) rotate(-90)"><text x="0" y="0" font-size="8.8" textLength="107.5" lengthAdjust="spacingAndGlyphs" text-anchor="middle" fill="#111" stroke="#111" stroke-width="0.2">Relative mRNA expression</text></g>
<text x="443.00" y="341.00" font-size="8.9" text-anchor="start" fill="#111" textLength="27.2" lengthAdjust="spacingAndGlyphs" stroke="#111" stroke-width="0.223" >Normal</text>
<text x="476.80" y="341.00" font-size="8.9" text-anchor="start" fill="#111" textLength="24.2" lengthAdjust="spacingAndGlyphs" stroke="#111" stroke-width="0.223" >Tumor</text>
<text x="445.20" y="351.30" font-size="8.9" text-anchor="start" fill="#111" textLength="25.0" lengthAdjust="spacingAndGlyphs" stroke="#111" stroke-width="0.223" >(n=30)</text>
<text x="477.30" y="351.30" font-size="8.9" text-anchor="start" fill="#111" textLength="26.1" lengthAdjust="spacingAndGlyphs" stroke="#111" stroke-width="0.223" >(n=30)</text>
<defs>
<filter id="fN" x="0" y="0" width="100%" height="100%">
 <feTurbulence type="fractalNoise" baseFrequency="0.75" numOctaves="2" seed="3" result="n"/>
 <feColorMatrix in="n" type="matrix" values="0 0 0 0 0.68  0 0 0 0 0.71  0 0 0 0 0.86  2.6 0 0 0 -1.1" result="c"/>
 <feComposite in="c" in2="SourceGraphic" operator="atop"/>
</filter>
<filter id="fN2" x="0" y="0" width="100%" height="100%">
 <feTurbulence type="fractalNoise" baseFrequency="0.8" numOctaves="2" seed="9" result="n"/>
 <feColorMatrix in="n" type="matrix" values="0 0 0 0 0.64  0 0 0 0 0.68  0 0 0 0 0.86  2.8 0 0 0 -1.12" result="c"/>
 <feComposite in="c" in2="SourceGraphic" operator="atop"/>
</filter>
<filter id="fT" x="0" y="0" width="100%" height="100%">
 <feTurbulence type="fractalNoise" baseFrequency="0.8" numOctaves="2" seed="5" result="n"/>
 <feColorMatrix in="n" type="matrix" values="0 0 0 0 0.6  0 0 0 0 0.46  0 0 0 0 0.42  2.6 0 0 0 -1.05" result="c"/>
 <feComposite in="c" in2="SourceGraphic" operator="atop"/>
</filter>
<filter id="fT2" x="0" y="0" width="100%" height="100%">
 <feTurbulence type="fractalNoise" baseFrequency="1.2" numOctaves="2" seed="7" result="n"/>
 <feColorMatrix in="n" type="matrix" values="0 0 0 0 0.58  0 0 0 0 0.4  0 0 0 0 0.34  2.9 0 0 0 -1.05" result="c"/>
 <feComposite in="c" in2="SourceGraphic" operator="atop"/>
</filter>
<linearGradient id="gN2" x1="0" y1="0" x2="1" y2="0">
 <stop offset="0" stop-color="#B4BEDC" stop-opacity="0"/>
 <stop offset="0.6" stop-color="#B4BEDC" stop-opacity="0.1"/>
 <stop offset="1" stop-color="#A8B4DA" stop-opacity="0.3"/>
</linearGradient>
</defs>
<rect x="26.6" y="413.2" width="80.2" height="55.9" fill="#EAE5E0" filter="url(#fN)"/>
<rect x="125.0" y="412.4" width="80.1" height="57.6" fill="#EAE5E0" filter="url(#fN2)"/>
<rect x="125.0" y="412.4" width="80.1" height="57.6" fill="url(#gN2)"/>
<rect x="26.6" y="476.2" width="80.2" height="55.4" fill="#E2D7D3" filter="url(#fT)"/>
<rect x="125.0" y="475.2" width="80.1" height="56.0" fill="#E4D6D0" filter="url(#fT2)"/>
<g fill="#F6F2F0" opacity="0.92">
<path d="M170.5 484.0 Q181 483.6 192.8 488.4 L192.0 490.4 Q181 487.6 170.5 486.4 Z"/>
<path d="M126.5 503.0 Q142 510 163.5 523.0 L162.0 525.2 Q141 513.4 126.5 506.4 Z"/>
<ellipse cx="135.4" cy="489.2" rx="2.0" ry="3.0"/>
<path d="M184.0 518.6 L192.4 511.6 L193.2 512.6 L185.0 519.6 Z"/>
</g>
<g fill="#F4F0EE" opacity="0.85">
<path d="M52.5 483.6 L58.6 484.6 L58.4 485.8 L52.3 484.8 Z"/>
<path d="M37.0 496.8 L47.2 502.4 L46.7 503.4 L36.6 497.8 Z"/>
<path d="M63.0 510.8 L73.0 509.6 L73.1 510.6 L63.1 511.8 Z"/>
<path d="M65.5 479.0 L67.8 481.0 L67.2 481.6 L65.0 479.6 Z"/>
<path d="M66.0 528.2 L69.8 529.0 L69.6 529.8 L65.8 529.0 Z"/>
<path d="M55.0 485.0 Q60 487 64 486.4 L64 487.4 Q60 488 55 486 Z" opacity="0.7"/>
<path d="M80.0 492.0 L95.0 497.0 L94.7 497.8 L79.7 492.8 Z" opacity="0.6"/>
<path d="M86.0 506.0 L100.0 503.0 L100.1 503.8 L86.1 506.8 Z" opacity="0.6"/>
<path d="M40.0 512.0 L52.0 516.0 L51.8 516.8 L39.8 512.8 Z" opacity="0.6"/>
<path d="M84.0 520.0 L98.0 526.0 L97.7 526.8 L83.7 520.8 Z" opacity="0.6"/>
</g>
<rect x="26.6" y="413.2" width="80.2" height="55.9" fill="none" stroke="#2a2a2a" stroke-width="1.1"/>
<rect x="125.0" y="412.4" width="80.1" height="57.6" fill="none" stroke="#2a2a2a" stroke-width="1.1"/>
<rect x="26.6" y="476.2" width="80.2" height="55.4" fill="none" stroke="#2a2a2a" stroke-width="1.1"/>
<rect x="125.0" y="475.2" width="80.1" height="56.0" fill="none" stroke="#2a2a2a" stroke-width="1.1"/>
<rect x="34.4" y="429.3" width="41.1" height="28.1" stroke="#111" stroke-width="1.15" stroke-dasharray="3.4 2.3" fill="none"/>
<rect x="31.8" y="480.3" width="41.8" height="28.3" stroke="#111" stroke-width="1.15" stroke-dasharray="3.4 2.3" fill="none"/>
<line x1="75.5" y1="429.3" x2="123.7" y2="413.0" stroke="#111" stroke-width="1.15" stroke-dasharray="3.4 2.3" fill="none"/>
<line x1="75.5" y1="457.4" x2="123.7" y2="469.6" stroke="#111" stroke-width="1.15" stroke-dasharray="3.4 2.3" fill="none"/>
<line x1="73.6" y1="480.3" x2="124.7" y2="475.6" stroke="#111" stroke-width="1.15" stroke-dasharray="3.4 2.3" fill="none"/>
<line x1="73.6" y1="508.6" x2="124.7" y2="531.0" stroke="#111" stroke-width="1.15" stroke-dasharray="3.4 2.3" fill="none"/>
<line x1="32.3" y1="460.7" x2="40.4" y2="460.7" stroke="#111" stroke-width="0.8"/>
<text x="29.30" y="466.00" font-size="6.2" text-anchor="start" fill="#111" font-weight="bold">100μm</text>
<line x1="32.3" y1="522.6" x2="40.4" y2="522.6" stroke="#111" stroke-width="0.8"/>
<text x="28.80" y="529.80" font-size="6.2" text-anchor="start" fill="#111" font-weight="bold">100μm</text>
<line x1="129.5" y1="461.2" x2="137.0" y2="461.2" stroke="#111" stroke-width="0.8"/>
<text x="128.00" y="466.50" font-size="6.2" text-anchor="start" fill="#111" font-weight="bold">50μm</text>
<line x1="129.5" y1="524.0" x2="137.0" y2="524.0" stroke="#111" stroke-width="0.8"/>
<text x="128.00" y="529.50" font-size="6.2" text-anchor="start" fill="#111" font-weight="bold">50μm</text>
<g transform="translate(17.9 441.3) rotate(-90)"><text x="0" y="0" font-size="9.0" text-anchor="middle" fill="#111" stroke="#111" stroke-width="0.2">Normal</text></g>
<g transform="translate(17.9 504.1) rotate(-90)"><text x="0" y="0" font-size="9.3" text-anchor="middle" fill="#111" stroke="#111" stroke-width="0.2">Tumor</text></g>
<text x="275.70" y="403.10" font-size="8.2" text-anchor="start" fill="#111" textLength="46.4" lengthAdjust="spacingAndGlyphs" stroke="#111" stroke-width="0.205" >Renji cohort</text>
<line x1="281.5" y1="472.66" x2="281.5" y2="488.16" stroke="#0404D0" stroke-width="0.8"/>
<line x1="277.0" y1="472.66" x2="287.0" y2="472.66" stroke="#0404D0" stroke-width="0.8"/>
<line x1="277.0" y1="488.16" x2="287.0" y2="488.16" stroke="#0404D0" stroke-width="0.8"/>
<line x1="314.3" y1="450.62" x2="314.3" y2="483.06" stroke="#FA0404" stroke-width="0.8"/>
<line x1="309.2" y1="450.62" x2="319.7" y2="450.62" stroke="#FA0404" stroke-width="0.8"/>
<line x1="309.2" y1="483.06" x2="319.7" y2="483.06" stroke="#FA0404" stroke-width="0.8"/>
<circle cx="281.50" cy="468.17" r="1.5" fill="#0404D0"/>
<circle cx="285.10" cy="467.56" r="1.5" fill="#0404D0"/>
<circle cx="281.50" cy="472.25" r="1.5" fill="#0404D0"/>
<circle cx="285.10" cy="473.47" r="1.5" fill="#0404D0"/>
<circle cx="277.90" cy="475.92" r="1.5" fill="#0404D0"/>
<circle cx="281.50" cy="475.92" r="1.5" fill="#0404D0"/>
<circle cx="285.10" cy="476.12" r="1.5" fill="#0404D0"/>
<circle cx="288.70" cy="476.12" r="1.5" fill="#0404D0"/>
<circle cx="274.30" cy="478.57" r="1.5" fill="#0404D0"/>
<circle cx="277.90" cy="478.98" r="1.5" fill="#0404D0"/>
<circle cx="281.50" cy="479.18" r="1.5" fill="#0404D0"/>
<circle cx="285.10" cy="478.98" r="1.5" fill="#0404D0"/>
<circle cx="288.70" cy="478.57" r="1.5" fill="#0404D0"/>
<circle cx="292.30" cy="478.98" r="1.5" fill="#0404D0"/>
<circle cx="281.50" cy="483.06" r="1.5" fill="#0404D0"/>
<circle cx="285.10" cy="485.30" r="1.5" fill="#0404D0"/>
<circle cx="277.90" cy="488.98" r="1.5" fill="#0404D0"/>
<circle cx="281.50" cy="488.57" r="1.5" fill="#0404D0"/>
<circle cx="285.10" cy="489.59" r="1.5" fill="#0404D0"/>
<circle cx="281.50" cy="492.65" r="1.5" fill="#0404D0"/>
<circle cx="281.50" cy="497.14" r="1.5" fill="#0404D0"/>
<circle cx="319.20" cy="436.14" r="1.5" fill="#FA0404"/>
<circle cx="314.30" cy="438.79" r="1.5" fill="#FA0404"/>
<circle cx="309.50" cy="444.71" r="1.5" fill="#FA0404"/>
<circle cx="314.30" cy="446.75" r="1.5" fill="#FA0404"/>
<circle cx="314.30" cy="449.40" r="1.5" fill="#FA0404"/>
<circle cx="309.50" cy="461.03" r="1.5" fill="#FA0404"/>
<circle cx="314.30" cy="459.19" r="1.5" fill="#FA0404"/>
<circle cx="314.30" cy="464.29" r="1.5" fill="#FA0404"/>
<circle cx="314.30" cy="471.43" r="1.5" fill="#FA0404"/>
<circle cx="309.50" cy="475.51" r="1.5" fill="#FA0404"/>
<circle cx="314.30" cy="474.70" r="1.5" fill="#FA0404"/>
<circle cx="319.20" cy="474.29" r="1.5" fill="#FA0404"/>
<circle cx="319.20" cy="477.55" r="1.5" fill="#FA0404"/>
<circle cx="314.30" cy="477.96" r="1.5" fill="#FA0404"/>
<circle cx="309.50" cy="480.61" r="1.5" fill="#FA0404"/>
<circle cx="314.30" cy="480.82" r="1.5" fill="#FA0404"/>
<circle cx="319.20" cy="480.20" r="1.5" fill="#FA0404"/>
<circle cx="314.30" cy="483.47" r="1.5" fill="#FA0404"/>
<circle cx="319.20" cy="487.55" r="1.5" fill="#FA0404"/>
<circle cx="309.50" cy="489.79" r="1.5" fill="#FA0404"/>
<line x1="273.1" y1="480.41" x2="293.9" y2="480.41" stroke="#111" stroke-width="1.4"/>
<line x1="304.4" y1="467.15" x2="324.8" y2="467.15" stroke="#111" stroke-width="1.4"/>
<line x1="262.6" y1="417.9" x2="262.6" y2="521.4" stroke="#111" stroke-width="1.4"/>
<line x1="257.00" y1="520.80" x2="262.6" y2="520.80" stroke="#111" stroke-width="1.4"/>
<text x="255.40" y="523.49" font-size="8.3" text-anchor="end" fill="#1a1a1a" stroke="#1a1a1a" stroke-width="0.208" >0.0</text>
<line x1="257.00" y1="500.40" x2="262.6" y2="500.40" stroke="#111" stroke-width="1.4"/>
<text x="255.40" y="503.09" font-size="8.3" text-anchor="end" fill="#1a1a1a" stroke="#1a1a1a" stroke-width="0.208" >0.1</text>
<line x1="257.00" y1="480.00" x2="262.6" y2="480.00" stroke="#111" stroke-width="1.4"/>
<text x="255.40" y="482.69" font-size="8.3" text-anchor="end" fill="#1a1a1a" stroke="#1a1a1a" stroke-width="0.208" >0.2</text>
<line x1="257.00" y1="459.60" x2="262.6" y2="459.60" stroke="#111" stroke-width="1.4"/>
<text x="255.40" y="462.29" font-size="8.3" text-anchor="end" fill="#1a1a1a" stroke="#1a1a1a" stroke-width="0.208" >0.3</text>
<line x1="257.00" y1="439.20" x2="262.6" y2="439.20" stroke="#111" stroke-width="1.4"/>
<text x="255.40" y="441.89" font-size="8.3" text-anchor="end" fill="#1a1a1a" stroke="#1a1a1a" stroke-width="0.208" >0.4</text>
<line x1="257.00" y1="418.80" x2="262.6" y2="418.80" stroke="#111" stroke-width="1.4"/>
<text x="255.40" y="421.49" font-size="8.3" text-anchor="end" fill="#1a1a1a" stroke="#1a1a1a" stroke-width="0.208" >0.5</text>
<line x1="261.95" y1="520.8" x2="335.7" y2="520.8" stroke="#111" stroke-width="1.3"/>
<line x1="283.3" y1="520.8" x2="283.3" y2="525.6" stroke="#111" stroke-width="1.3"/>
<line x1="314.8" y1="520.8" x2="314.8" y2="525.6" stroke="#111" stroke-width="1.3"/>
<polyline points="284.4,430.4 284.4,424.8 314.0,424.8 314.0,430.4" fill="none" stroke="#111" stroke-width="1.3"/>
<text x="297.00" y="423.46" font-size="7.6" text-anchor="middle" fill="#111" stroke="#111" stroke-width="0.19" font-weight="bold">*</text>
<text x="301.60" y="423.46" font-size="7.6" text-anchor="middle" fill="#111" stroke="#111" stroke-width="0.19" font-weight="bold">*</text>
<g transform="translate(239.6 469.0) rotate(-90)"><text x="0" y="0" font-size="8.2" text-anchor="middle" fill="#111" stroke="#111" stroke-width="0.2" textLength="100.2" lengthAdjust="spacingAndGlyphs">Average Optical Density</text></g>
<text x="268.50" y="535.70" font-size="8.9" text-anchor="start" fill="#111" textLength="27.2" lengthAdjust="spacingAndGlyphs" stroke="#111" stroke-width="0.223" >Normal</text>
<text x="301.40" y="535.70" font-size="8.9" text-anchor="start" fill="#111" textLength="23.3" lengthAdjust="spacingAndGlyphs" stroke="#111" stroke-width="0.223" >Tumor</text>
<text x="270.60" y="545.20" font-size="8.9" text-anchor="start" fill="#111" textLength="25.1" lengthAdjust="spacingAndGlyphs" stroke="#111" stroke-width="0.223" >(n=20)</text>
<text x="301.40" y="545.20" font-size="8.9" text-anchor="start" fill="#111" textLength="25.4" lengthAdjust="spacingAndGlyphs" stroke="#111" stroke-width="0.223" >(n=20)</text>
<text x="421.70" y="401.30" font-size="8.9" text-anchor="start" fill="#111" textLength="30.3" lengthAdjust="spacingAndGlyphs" stroke="#111" stroke-width="0.223" >MEX3A</text>
<polyline points="388.7,418.7 389.6,418.7 389.6,420.7 390.6,420.7 390.6,422.8 391.5,422.8 391.5,424.8 392.7,424.8 392.7,426.8 393.8,426.8 393.8,428.8 395.0,428.8 395.0,430.8 396.0,430.8 396.0,432.1 397.0,432.1 397.0,433.5 398.0,433.5 398.0,434.9 399.0,434.9 399.0,436.2 400.0,436.2 400.0,436.7 401.0,436.7 401.0,437.2 403.5,437.2 403.5,441.0 407.2,441.0 407.2,442.2 411.0,442.2 411.0,447.1 414.7,447.1 414.7,448.4 417.1,448.4 417.1,452.1 418.4,452.1 418.4,454.6 437.0,454.6 437.0,454.6 437.5,454.6 437.5,465.0 440.7,465.0 440.7,465.0 441.4,465.0 441.4,475.6 454.3,475.6 454.3,475.6" fill="none" stroke="#22D36A" stroke-width="1.4"/>
<polyline points="386.9,417.4 387.9,417.4 387.9,418.1 389.0,418.1 389.0,418.9 390.1,418.9 390.1,419.6 391.1,419.6 391.1,420.4 392.1,420.4 392.1,421.2 393.0,421.2 393.0,422.0 393.9,422.0 393.9,422.8 394.9,422.8 394.9,423.6 395.9,423.6 395.9,424.6 396.9,424.6 396.9,425.6 397.8,425.6 397.8,426.6 398.8,426.6 398.8,427.6 399.8,427.6 399.8,428.6 400.8,428.6 400.8,429.8 401.8,429.8 401.8,431.1 402.8,431.1 402.8,432.3 403.8,432.3 403.8,433.6 404.8,433.6 404.8,434.8 405.8,434.8 405.8,435.4 406.8,435.4 406.8,436.1 407.7,436.1 407.7,436.7 408.7,436.7 408.7,437.4 409.7,437.4 409.7,438.0 410.6,438.0 410.6,438.1 411.6,438.1 411.6,438.2 412.5,438.2 412.5,438.4 413.4,438.4 413.4,438.5 414.3,438.5 414.3,438.6 415.2,438.6 415.2,438.8 416.2,438.8 416.2,438.9 417.1,438.9 417.1,439.0 423.3,439.0 423.3,439.7 425.8,439.7 425.8,441.7 439.4,441.7 439.4,441.7 440.2,441.7 440.2,448.4 441.4,448.4 441.4,455.8 442.4,455.8 442.4,462.7 498.9,462.7 498.9,462.7" fill="none" stroke="#F2531E" stroke-width="1.4"/>
<polyline points="380.7,413 380.7,523.6 503.6,523.6" fill="none" stroke="#111" stroke-width="1.3"/>
<text x="378.40" y="422.50" font-size="7.0" text-anchor="end" fill="#222" textLength="11.4" lengthAdjust="spacingAndGlyphs" stroke="#222" stroke-width="0.175" >1.00</text>
<text x="378.40" y="447.80" font-size="7.0" text-anchor="end" fill="#222" textLength="11.4" lengthAdjust="spacingAndGlyphs" stroke="#222" stroke-width="0.175" >0.75</text>
<text x="378.40" y="473.10" font-size="7.0" text-anchor="end" fill="#222" textLength="11.4" lengthAdjust="spacingAndGlyphs" stroke="#222" stroke-width="0.175" >0.50</text>
<text x="378.40" y="498.40" font-size="7.0" text-anchor="end" fill="#222" textLength="11.4" lengthAdjust="spacingAndGlyphs" stroke="#222" stroke-width="0.175" >0.25</text>
<text x="378.40" y="523.70" font-size="7.0" text-anchor="end" fill="#222" textLength="11.4" lengthAdjust="spacingAndGlyphs" stroke="#222" stroke-width="0.175" >0.00</text>
<text x="391.90" y="531.90" font-size="6.8" text-anchor="middle" fill="#222" stroke="#222" stroke-width="0.17" >0</text>
<text x="427.20" y="531.90" font-size="6.8" text-anchor="middle" fill="#222" textLength="11.4" lengthAdjust="spacingAndGlyphs" stroke="#222" stroke-width="0.17" >2000</text>
<text x="460.50" y="531.90" font-size="6.8" text-anchor="middle" fill="#222" textLength="11.4" lengthAdjust="spacingAndGlyphs" stroke="#222" stroke-width="0.17" >4000</text>
<text x="493.80" y="531.90" font-size="6.8" text-anchor="middle" fill="#222" textLength="11.4" lengthAdjust="spacingAndGlyphs" stroke="#222" stroke-width="0.17" >6000</text>
<text x="445.60" y="542.60" font-size="7.8" text-anchor="middle" fill="#111" textLength="44.0" lengthAdjust="spacingAndGlyphs" stroke="#111" stroke-width="0.195" >Time in days</text>
<g transform="translate(364.0 472.6) rotate(-90)"><text x="0" y="0" font-size="8.0" text-anchor="middle" fill="#111" stroke="#111" stroke-width="0.18" textLength="67" lengthAdjust="spacingAndGlyphs">Survival probability</text></g>
<text x="391.60" y="508.20" font-size="7.2" text-anchor="start" fill="#222" textLength="25.6" lengthAdjust="spacingAndGlyphs" stroke="#222" stroke-width="0.18" >p = 0.023</text>
<text x="432.10" y="502.70" font-size="6.9" text-anchor="start" fill="#222" textLength="46.0" lengthAdjust="spacingAndGlyphs" stroke="#222" stroke-width="0.173" >Expression Level</text>
<rect x="432.8" y="509.4" width="1.7" height="1.7" fill="#22D36A"/>
<rect x="432.8" y="516.6" width="1.7" height="1.7" fill="#F2531E"/>
<text x="437.60" y="511.50" font-size="7.2" text-anchor="start" fill="#222" textLength="56.9" lengthAdjust="spacingAndGlyphs" stroke="#222" stroke-width="0.18" >High MEX3A (n=137)</text>
<text x="437.60" y="519.60" font-size="7.2" text-anchor="start" fill="#222" textLength="56.9" lengthAdjust="spacingAndGlyphs" stroke="#222" stroke-width="0.18" xml:space="preserve">Low  MEX3A (n=406)</text>
</svg>
</body></html>
